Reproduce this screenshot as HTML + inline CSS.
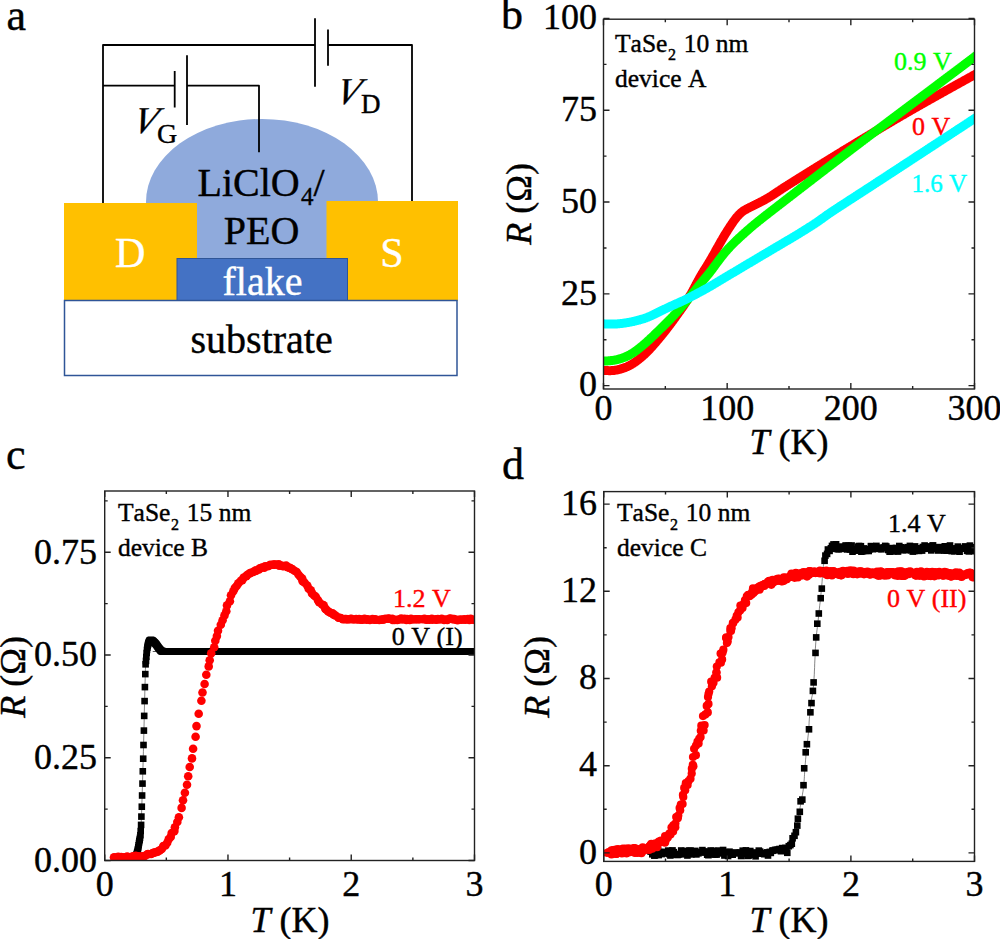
<!DOCTYPE html>
<html><head><meta charset="utf-8"><style>html,body{margin:0;padding:0;background:#fff;width:1000px;height:939px;overflow:hidden}svg{display:block}text{font-family:"Liberation Serif",serif;font-kerning:none}</style></head>
<body><svg width="1000" height="939" viewBox="0 0 1000 939" font-family="Liberation Serif"><text x="6.5" y="29.5" font-size="44" stroke="#000" stroke-width="0.4">a</text><ellipse cx="262" cy="202" rx="116" ry="83" fill="#8FAADC"/><rect x="190" y="200" width="140" height="60" fill="#8FAADC"/><rect x="64" y="203" width="133" height="98" fill="#FFC000"/><rect x="326.5" y="201" width="131.5" height="100" fill="#FFC000"/><rect x="177" y="258.5" width="170.5" height="42" fill="#4472C4" stroke="#2F5597" stroke-width="1"/><rect x="64.5" y="300.5" width="392.5" height="75" fill="#fff" stroke="#2F5597" stroke-width="1.5"/><path d="M103,203V45H315M328,45H412V201M103,85.7H174.7M187,85.7H259V152.3" stroke="#000" stroke-width="1.8" fill="none" stroke-linejoin="round"/><path d="M315,18.2V86.8M328,29.4V65.8M174.7,71V107.5M187,55.3V125" stroke="#000" stroke-width="1.8" fill="none"/><text transform="translate(334,104) skewX(-15)" font-size="38" font-style="italic" stroke="#000" stroke-width="0.3">V</text><text x="361" y="113" font-size="27" text-anchor="start" fill="#000" stroke="#000" stroke-width="0.4" >D</text><text transform="translate(131,133.3) skewX(-15)" font-size="38" font-style="italic" stroke="#000" stroke-width="0.3">V</text><text x="157" y="143" font-size="28" text-anchor="start" fill="#000" stroke="#000" stroke-width="0.4" >G</text><text x="197.5" y="196" font-size="40" text-anchor="start" fill="#000" stroke="#000" stroke-width="0.4" >LiClO</text><text x="301" y="205" font-size="25" text-anchor="start" fill="#000" stroke="#000" stroke-width="0.4" >4</text><text x="313.5" y="196" font-size="40" text-anchor="start" fill="#000" stroke="#000" stroke-width="0.4" >/</text><text x="261.5" y="244" font-size="40" text-anchor="middle" fill="#000" stroke="#000" stroke-width="0.4" >PEO</text><text x="130.2" y="267" font-size="42" text-anchor="middle" fill="#fff" stroke="#fff" stroke-width="0.4" >D</text><text x="392" y="267" font-size="42" text-anchor="middle" fill="#fff" stroke="#fff" stroke-width="0.4" >S</text><text x="262.5" y="295" font-size="40" text-anchor="middle" fill="#fff" stroke="#fff" stroke-width="0.4" >flake</text><text x="261.6" y="352.8" font-size="40" text-anchor="middle" fill="#000" stroke="#000" stroke-width="0.4" >substrate</text><text x="501" y="29.4" font-size="44" stroke="#000" stroke-width="0.4">b</text><clipPath id="cb"><rect x="603.5" y="19.2" width="371.0" height="369.8"/></clipPath><g clip-path="url(#cb)"><path d="M603.7,370.4 L604.2,370.4 L604.7,370.5 L605.2,370.5 L605.7,370.5 L606.2,370.5 L606.7,370.6 L607.2,370.6 L607.7,370.6 L608.2,370.6 L608.7,370.7 L609.2,370.7 L609.7,370.7 L610.2,370.7 L610.7,370.7 L611.2,370.6 L611.7,370.6 L612.2,370.6 L612.7,370.6 L613.2,370.5 L613.7,370.5 L614.2,370.4 L614.7,370.3 L615.2,370.2 L615.7,370.2 L616.2,370.1 L616.7,370.0 L617.2,369.9 L617.7,369.8 L618.2,369.6 L618.7,369.5 L619.2,369.4 L619.7,369.3 L620.2,369.1 L620.7,369.0 L621.2,368.8 L621.7,368.7 L622.2,368.5 L622.7,368.4 L623.2,368.2 L623.7,368.0 L624.2,367.9 L624.7,367.7 L625.2,367.5 L625.7,367.3 L626.2,367.1 L626.7,366.9 L627.2,366.7 L627.7,366.4 L628.2,366.2 L628.7,365.9 L629.2,365.7 L629.7,365.4 L630.2,365.2 L630.7,364.9 L631.2,364.6 L631.7,364.3 L632.2,364.0 L632.7,363.7 L633.2,363.4 L633.7,363.0 L634.2,362.7 L634.7,362.4 L635.2,362.0 L635.7,361.7 L636.2,361.3 L636.7,360.9 L637.2,360.6 L637.7,360.2 L638.2,359.8 L638.7,359.4 L639.2,359.0 L639.7,358.6 L640.2,358.2 L640.7,357.8 L641.2,357.3 L641.7,356.9 L642.2,356.5 L642.7,356.0 L643.2,355.6 L643.7,355.1 L644.2,354.7 L644.7,354.2 L645.2,353.7 L645.7,353.3 L646.2,352.8 L646.7,352.3 L647.2,351.8 L647.7,351.3 L648.2,350.8 L648.7,350.3 L649.2,349.7 L649.7,349.2 L650.2,348.7 L650.7,348.1 L651.2,347.6 L651.7,347.0 L652.2,346.5 L652.7,345.9 L653.2,345.4 L653.7,344.8 L654.2,344.2 L654.7,343.6 L655.2,343.1 L655.7,342.5 L656.2,341.9 L656.7,341.3 L657.2,340.7 L657.7,340.1 L658.2,339.5 L658.7,338.9 L659.2,338.3 L659.7,337.7 L660.2,337.1 L660.7,336.5 L661.2,335.9 L661.7,335.3 L662.2,334.7 L662.7,334.1 L663.2,333.4 L663.7,332.8 L664.2,332.2 L664.7,331.6 L665.2,330.9 L665.7,330.3 L666.2,329.6 L666.7,329.0 L667.2,328.3 L667.7,327.7 L668.2,327.0 L668.7,326.4 L669.2,325.7 L669.7,325.1 L670.2,324.4 L670.7,323.7 L671.2,323.1 L671.7,322.4 L672.2,321.7 L672.7,321.0 L673.2,320.4 L673.7,319.7 L674.2,319.0 L674.7,318.3 L675.2,317.6 L675.7,316.9 L676.2,316.2 L676.7,315.5 L677.2,314.8 L677.7,314.1 L678.2,313.4 L678.7,312.7 L679.2,312.0 L679.7,311.3 L680.2,310.6 L680.7,309.9 L681.2,309.2 L681.7,308.5 L682.2,307.8 L682.7,307.0 L683.2,306.3 L683.7,305.6 L684.2,304.8 L684.7,304.1 L685.2,303.3 L685.7,302.6 L686.2,301.8 L686.7,301.0 L687.2,300.3 L687.7,299.5 L688.2,298.7 L688.7,297.9 L689.2,297.0 L689.7,296.2 L690.2,295.3 L690.7,294.5 L691.2,293.6 L691.7,292.7 L692.2,291.8 L692.7,290.9 L693.2,290.0 L693.7,289.0 L694.2,288.1 L694.7,287.1 L695.2,286.2 L695.7,285.2 L696.2,284.3 L696.7,283.3 L697.2,282.4 L697.7,281.4 L698.2,280.5 L698.7,279.6 L699.2,278.7 L699.7,277.8 L700.2,276.9 L700.7,276.0 L701.2,275.1 L701.7,274.3 L702.2,273.5 L702.7,272.6 L703.2,271.8 L703.7,271.0 L704.2,270.2 L704.7,269.4 L705.2,268.6 L705.7,267.8 L706.2,267.1 L706.7,266.3 L707.2,265.5 L707.7,264.7 L708.2,263.8 L708.7,263.0 L709.2,262.2 L709.7,261.4 L710.2,260.5 L710.7,259.7 L711.2,258.8 L711.7,257.9 L712.2,257.0 L712.7,256.2 L713.2,255.3 L713.7,254.4 L714.2,253.5 L714.7,252.6 L715.2,251.7 L715.7,250.8 L716.2,249.8 L716.7,248.9 L717.2,248.0 L717.7,247.1 L718.2,246.3 L718.7,245.4 L719.2,244.5 L719.7,243.6 L720.2,242.7 L720.7,241.8 L721.2,241.0 L721.7,240.1 L722.2,239.3 L722.7,238.4 L723.2,237.6 L723.7,236.7 L724.2,235.9 L724.7,235.0 L725.2,234.2 L725.7,233.4 L726.2,232.6 L726.7,231.8 L727.2,231.0 L727.7,230.2 L728.2,229.4 L728.7,228.6 L729.2,227.8 L729.7,227.1 L730.2,226.3 L730.7,225.5 L731.2,224.8 L731.7,224.1 L732.2,223.3 L732.7,222.6 L733.2,221.9 L733.7,221.2 L734.2,220.5 L734.7,219.8 L735.2,219.2 L735.7,218.5 L736.2,217.9 L736.7,217.2 L737.2,216.6 L737.7,216.1 L738.2,215.5 L738.7,215.0 L739.2,214.4 L739.7,213.9 L740.2,213.5 L740.7,213.0 L741.2,212.6 L741.7,212.2 L742.2,211.8 L742.7,211.4 L743.2,211.1 L743.7,210.7 L744.2,210.4 L744.7,210.1 L745.2,209.8 L745.7,209.5 L746.2,209.3 L746.7,209.0 L747.2,208.7 L747.7,208.4 L748.2,208.2 L748.7,207.9 L749.2,207.7 L749.7,207.4 L750.2,207.1 L750.7,206.9 L751.2,206.6 L751.7,206.4 L752.2,206.2 L752.7,205.9 L753.2,205.7 L753.7,205.4 L754.2,205.2 L754.7,204.9 L755.2,204.7 L755.7,204.4 L756.2,204.2 L756.7,203.9 L757.2,203.7 L757.7,203.4 L758.2,203.2 L758.7,202.9 L759.2,202.7 L759.7,202.4 L760.2,202.2 L760.7,201.9 L761.2,201.6 L761.7,201.4 L762.2,201.1 L762.7,200.9 L763.2,200.6 L763.7,200.3 L764.2,200.1 L764.7,199.8 L765.2,199.5 L765.7,199.2 L766.2,199.0 L766.7,198.7 L767.2,198.4 L767.7,198.1 L768.2,197.8 L768.7,197.5 L769.2,197.2 L769.7,196.9 L770.2,196.6 L770.7,196.3 L771.2,196.0 L771.7,195.7 L772.2,195.4 L772.7,195.1 L773.2,194.7 L773.7,194.4 L774.2,194.1 L774.7,193.7 L775.2,193.4 L775.7,193.1 L776.2,192.7 L776.7,192.4 L777.2,192.1 L777.7,191.7 L778.2,191.4 L778.7,191.0 L779.2,190.7 L779.7,190.4 L780.2,190.0 L780.7,189.7 L781.2,189.4 L781.7,189.0 L782.2,188.7 L782.7,188.4 L783.2,188.1 L783.7,187.7 L784.2,187.4 L784.7,187.1 L785.2,186.8 L785.7,186.4 L786.2,186.1 L786.7,185.8 L787.2,185.5 L787.7,185.2 L788.2,184.9 L788.7,184.5 L789.2,184.2 L789.7,183.9 L790.2,183.6 L790.7,183.3 L791.2,183.0 L791.7,182.6 L792.2,182.3 L792.7,182.0 L793.2,181.7 L793.7,181.4 L794.2,181.1 L794.7,180.8 L795.2,180.4 L795.7,180.1 L796.2,179.8 L796.7,179.5 L797.2,179.2 L797.7,178.9 L798.2,178.6 L798.7,178.3 L799.2,177.9 L799.7,177.6 L800.2,177.3 L800.7,177.0 L801.2,176.7 L801.7,176.4 L802.2,176.1 L802.7,175.8 L803.2,175.5 L803.7,175.1 L804.2,174.8 L804.7,174.5 L805.2,174.2 L805.7,173.9 L806.2,173.6 L806.7,173.3 L807.2,173.0 L807.7,172.6 L808.2,172.3 L808.7,172.0 L809.2,171.7 L809.7,171.4 L810.2,171.1 L810.7,170.8 L811.2,170.5 L811.7,170.2 L812.2,169.9 L812.7,169.5 L813.2,169.2 L813.7,168.9 L814.2,168.6 L814.7,168.3 L815.2,168.0 L815.7,167.7 L816.2,167.4 L816.7,167.1 L817.2,166.8 L817.7,166.4 L818.2,166.1 L818.7,165.8 L819.2,165.5 L819.7,165.2 L820.2,164.9 L820.7,164.6 L821.2,164.3 L821.7,164.0 L822.2,163.7 L822.7,163.3 L823.2,163.0 L823.7,162.7 L824.2,162.4 L824.7,162.1 L825.2,161.8 L825.7,161.5 L826.2,161.2 L826.7,160.9 L827.2,160.6 L827.7,160.3 L828.2,160.0 L828.7,159.6 L829.2,159.3 L829.7,159.0 L830.2,158.7 L830.7,158.4 L831.2,158.1 L831.7,157.8 L832.2,157.5 L832.7,157.2 L833.2,156.9 L833.7,156.6 L834.2,156.3 L834.7,156.0 L835.2,155.6 L835.7,155.3 L836.2,155.0 L836.7,154.7 L837.2,154.4 L837.7,154.1 L838.2,153.8 L838.7,153.5 L839.2,153.2 L839.7,152.9 L840.2,152.6 L840.7,152.3 L841.2,152.0 L841.7,151.7 L842.2,151.4 L842.7,151.1 L843.2,150.7 L843.7,150.4 L844.2,150.1 L844.7,149.8 L845.2,149.5 L845.7,149.2 L846.2,148.9 L846.7,148.6 L847.2,148.3 L847.7,148.0 L848.2,147.7 L848.7,147.4 L849.2,147.1 L849.7,146.8 L850.2,146.5 L850.7,146.2 L851.2,145.9 L851.7,145.6 L852.2,145.3 L852.7,145.0 L853.2,144.7 L853.7,144.4 L854.2,144.1 L854.7,143.8 L855.2,143.5 L855.7,143.1 L856.2,142.8 L856.7,142.5 L857.2,142.2 L857.7,141.9 L858.2,141.6 L858.7,141.3 L859.2,141.0 L859.7,140.7 L860.2,140.4 L860.7,140.1 L861.2,139.8 L861.7,139.5 L862.2,139.2 L862.7,138.9 L863.2,138.6 L863.7,138.3 L864.2,138.0 L864.7,137.7 L865.2,137.4 L865.7,137.1 L866.2,136.8 L866.7,136.5 L867.2,136.2 L867.7,135.9 L868.2,135.6 L868.7,135.3 L869.2,135.0 L869.7,134.7 L870.2,134.4 L870.7,134.1 L871.2,133.8 L871.7,133.5 L872.2,133.2 L872.7,132.9 L873.2,132.6 L873.7,132.3 L874.2,132.0 L874.7,131.7 L875.2,131.4 L875.7,131.1 L876.2,130.8 L876.7,130.5 L877.2,130.2 L877.7,129.9 L878.2,129.6 L878.7,129.3 L879.2,129.0 L879.7,128.7 L880.2,128.4 L880.7,128.1 L881.2,127.8 L881.7,127.5 L882.2,127.2 L882.7,126.9 L883.2,126.6 L883.7,126.3 L884.2,126.0 L884.7,125.7 L885.2,125.4 L885.7,125.1 L886.2,124.8 L886.7,124.5 L887.2,124.2 L887.7,124.0 L888.2,123.7 L888.7,123.4 L889.2,123.1 L889.7,122.8 L890.2,122.5 L890.7,122.2 L891.2,121.9 L891.7,121.6 L892.2,121.3 L892.7,121.0 L893.2,120.7 L893.7,120.4 L894.2,120.1 L894.7,119.8 L895.2,119.5 L895.7,119.2 L896.2,118.9 L896.7,118.6 L897.2,118.4 L897.7,118.1 L898.2,117.8 L898.7,117.5 L899.2,117.2 L899.7,116.9 L900.2,116.6 L900.7,116.3 L901.2,116.0 L901.7,115.7 L902.2,115.4 L902.7,115.1 L903.2,114.9 L903.7,114.6 L904.2,114.3 L904.7,114.0 L905.2,113.7 L905.7,113.4 L906.2,113.1 L906.7,112.8 L907.2,112.5 L907.7,112.2 L908.2,111.9 L908.7,111.7 L909.2,111.4 L909.7,111.1 L910.2,110.8 L910.7,110.5 L911.2,110.2 L911.7,109.9 L912.2,109.6 L912.7,109.4 L913.2,109.1 L913.7,108.8 L914.2,108.5 L914.7,108.2 L915.2,107.9 L915.7,107.6 L916.2,107.4 L916.7,107.1 L917.2,106.8 L917.7,106.5 L918.2,106.2 L918.7,105.9 L919.2,105.6 L919.7,105.4 L920.2,105.1 L920.7,104.8 L921.2,104.5 L921.7,104.2 L922.2,103.9 L922.7,103.7 L923.2,103.4 L923.7,103.1 L924.2,102.8 L924.7,102.5 L925.2,102.2 L925.7,102.0 L926.2,101.7 L926.7,101.4 L927.2,101.1 L927.7,100.8 L928.2,100.5 L928.7,100.3 L929.2,100.0 L929.7,99.7 L930.2,99.4 L930.7,99.1 L931.2,98.9 L931.7,98.6 L932.2,98.3 L932.7,98.0 L933.2,97.7 L933.7,97.5 L934.2,97.2 L934.7,96.9 L935.2,96.6 L935.7,96.3 L936.2,96.1 L936.7,95.8 L937.2,95.5 L937.7,95.2 L938.2,94.9 L938.7,94.7 L939.2,94.4 L939.7,94.1 L940.2,93.8 L940.7,93.5 L941.2,93.3 L941.7,93.0 L942.2,92.7 L942.7,92.4 L943.2,92.1 L943.7,91.9 L944.2,91.6 L944.7,91.3 L945.2,91.0 L945.7,90.7 L946.2,90.5 L946.7,90.2 L947.2,89.9 L947.7,89.6 L948.2,89.4 L948.7,89.1 L949.2,88.8 L949.7,88.5 L950.2,88.2 L950.7,88.0 L951.2,87.7 L951.7,87.4 L952.2,87.1 L952.7,86.8 L953.2,86.6 L953.7,86.3 L954.2,86.0 L954.7,85.7 L955.2,85.5 L955.7,85.2 L956.2,84.9 L956.7,84.6 L957.2,84.3 L957.7,84.1 L958.2,83.8 L958.7,83.5 L959.2,83.2 L959.7,83.0 L960.2,82.7 L960.7,82.4 L961.2,82.1 L961.7,81.9 L962.2,81.6 L962.7,81.3 L963.2,81.0 L963.7,80.7 L964.2,80.5 L964.7,80.2 L965.2,79.9 L965.7,79.6 L966.2,79.4 L966.7,79.1 L967.2,78.8 L967.7,78.5 L968.2,78.2 L968.7,78.0 L969.2,77.7 L969.7,77.4 L970.2,77.1 L970.7,76.9 L971.2,76.6 L971.7,76.3 L972.2,76.0 L972.7,75.8 L973.2,75.5 L973.7,75.2 L974.2,74.9 L974.7,74.7 L975.2,74.4 L975.7,74.1 L976.2,73.8 L976.7,73.5 L977.2,73.3 L977.7,73.0 L978.2,72.7 L978.7,72.5 L979.2,72.2 L979.7,71.9 L980.2,71.6 L980.7,71.4 L981.2,71.1 L981.7,70.8 L982.2,70.6 L982.7,70.3 L983.2,70.0 L983.7,69.8 L984.2,69.5 L984.7,69.2 L985.2,69.0 L985.7,68.7 L986.2,68.4 L986.7,68.2 L987.2,67.9 L987.7,67.7 L988.2,67.4 L988.7,67.2 L989.2,66.9 L989.7,66.7" stroke="#FF0000" stroke-width="9" fill="none" stroke-linejoin="round"/><path d="M603.7,361.0 L604.2,361.0 L604.7,361.0 L605.2,361.0 L605.7,360.9 L606.2,360.9 L606.7,360.9 L607.2,360.9 L607.7,360.9 L608.2,360.8 L608.7,360.8 L609.2,360.8 L609.7,360.7 L610.2,360.7 L610.7,360.6 L611.2,360.6 L611.7,360.5 L612.2,360.5 L612.7,360.4 L613.2,360.3 L613.7,360.3 L614.2,360.2 L614.7,360.1 L615.2,360.0 L615.7,359.9 L616.2,359.8 L616.7,359.7 L617.2,359.6 L617.7,359.4 L618.2,359.3 L618.7,359.2 L619.2,359.0 L619.7,358.9 L620.2,358.7 L620.7,358.6 L621.2,358.4 L621.7,358.3 L622.2,358.1 L622.7,357.9 L623.2,357.7 L623.7,357.6 L624.2,357.4 L624.7,357.2 L625.2,357.0 L625.7,356.8 L626.2,356.5 L626.7,356.3 L627.2,356.1 L627.7,355.8 L628.2,355.6 L628.7,355.3 L629.2,355.1 L629.7,354.8 L630.2,354.5 L630.7,354.2 L631.2,353.9 L631.7,353.6 L632.2,353.3 L632.7,353.0 L633.2,352.7 L633.7,352.4 L634.2,352.0 L634.7,351.7 L635.2,351.3 L635.7,351.0 L636.2,350.6 L636.7,350.3 L637.2,349.9 L637.7,349.5 L638.2,349.1 L638.7,348.7 L639.2,348.3 L639.7,347.9 L640.2,347.5 L640.7,347.1 L641.2,346.7 L641.7,346.3 L642.2,345.9 L642.7,345.5 L643.2,345.1 L643.7,344.6 L644.2,344.2 L644.7,343.8 L645.2,343.3 L645.7,342.9 L646.2,342.4 L646.7,342.0 L647.2,341.5 L647.7,341.1 L648.2,340.6 L648.7,340.2 L649.2,339.7 L649.7,339.3 L650.2,338.8 L650.7,338.3 L651.2,337.8 L651.7,337.4 L652.2,336.9 L652.7,336.4 L653.2,335.9 L653.7,335.5 L654.2,335.0 L654.7,334.5 L655.2,334.0 L655.7,333.5 L656.2,333.0 L656.7,332.5 L657.2,332.1 L657.7,331.6 L658.2,331.1 L658.7,330.6 L659.2,330.1 L659.7,329.6 L660.2,329.1 L660.7,328.6 L661.2,328.1 L661.7,327.7 L662.2,327.2 L662.7,326.7 L663.2,326.2 L663.7,325.7 L664.2,325.2 L664.7,324.7 L665.2,324.2 L665.7,323.7 L666.2,323.2 L666.7,322.7 L667.2,322.2 L667.7,321.7 L668.2,321.2 L668.7,320.7 L669.2,320.2 L669.7,319.7 L670.2,319.2 L670.7,318.7 L671.2,318.1 L671.7,317.6 L672.2,317.1 L672.7,316.6 L673.2,316.1 L673.7,315.5 L674.2,315.0 L674.7,314.5 L675.2,313.9 L675.7,313.4 L676.2,312.8 L676.7,312.3 L677.2,311.7 L677.7,311.2 L678.2,310.6 L678.7,310.1 L679.2,309.5 L679.7,309.0 L680.2,308.4 L680.7,307.8 L681.2,307.2 L681.7,306.7 L682.2,306.1 L682.7,305.5 L683.2,304.9 L683.7,304.4 L684.2,303.8 L684.7,303.2 L685.2,302.6 L685.7,302.0 L686.2,301.4 L686.7,300.8 L687.2,300.2 L687.7,299.6 L688.2,299.0 L688.7,298.4 L689.2,297.8 L689.7,297.2 L690.2,296.5 L690.7,295.9 L691.2,295.3 L691.7,294.7 L692.2,294.0 L692.7,293.4 L693.2,292.8 L693.7,292.2 L694.2,291.5 L694.7,290.9 L695.2,290.3 L695.7,289.6 L696.2,289.0 L696.7,288.4 L697.2,287.7 L697.7,287.1 L698.2,286.5 L698.7,285.9 L699.2,285.2 L699.7,284.6 L700.2,284.0 L700.7,283.4 L701.2,282.8 L701.7,282.2 L702.2,281.6 L702.7,281.0 L703.2,280.4 L703.7,279.8 L704.2,279.2 L704.7,278.6 L705.2,278.0 L705.7,277.4 L706.2,276.8 L706.7,276.2 L707.2,275.6 L707.7,275.0 L708.2,274.4 L708.7,273.8 L709.2,273.1 L709.7,272.5 L710.2,271.9 L710.7,271.2 L711.2,270.6 L711.7,269.9 L712.2,269.3 L712.7,268.6 L713.2,267.9 L713.7,267.2 L714.2,266.6 L714.7,265.9 L715.2,265.2 L715.7,264.5 L716.2,263.8 L716.7,263.2 L717.2,262.5 L717.7,261.8 L718.2,261.1 L718.7,260.5 L719.2,259.8 L719.7,259.1 L720.2,258.5 L720.7,257.8 L721.2,257.2 L721.7,256.5 L722.2,255.9 L722.7,255.3 L723.2,254.6 L723.7,254.0 L724.2,253.4 L724.7,252.8 L725.2,252.2 L725.7,251.6 L726.2,251.0 L726.7,250.5 L727.2,249.9 L727.7,249.3 L728.2,248.8 L728.7,248.2 L729.2,247.7 L729.7,247.2 L730.2,246.6 L730.7,246.1 L731.2,245.6 L731.7,245.1 L732.2,244.6 L732.7,244.1 L733.2,243.6 L733.7,243.1 L734.2,242.6 L734.7,242.1 L735.2,241.6 L735.7,241.1 L736.2,240.6 L736.7,240.2 L737.2,239.7 L737.7,239.2 L738.2,238.8 L738.7,238.3 L739.2,237.8 L739.7,237.4 L740.2,236.9 L740.7,236.4 L741.2,236.0 L741.7,235.5 L742.2,235.1 L742.7,234.6 L743.2,234.2 L743.7,233.7 L744.2,233.3 L744.7,232.8 L745.2,232.4 L745.7,231.9 L746.2,231.5 L746.7,231.0 L747.2,230.6 L747.7,230.2 L748.2,229.7 L748.7,229.3 L749.2,228.9 L749.7,228.4 L750.2,228.0 L750.7,227.6 L751.2,227.1 L751.7,226.7 L752.2,226.3 L752.7,225.9 L753.2,225.4 L753.7,225.0 L754.2,224.6 L754.7,224.2 L755.2,223.8 L755.7,223.4 L756.2,223.0 L756.7,222.6 L757.2,222.2 L757.7,221.7 L758.2,221.3 L758.7,220.9 L759.2,220.5 L759.7,220.2 L760.2,219.8 L760.7,219.4 L761.2,219.0 L761.7,218.6 L762.2,218.2 L762.7,217.8 L763.2,217.4 L763.7,217.0 L764.2,216.6 L764.7,216.2 L765.2,215.8 L765.7,215.4 L766.2,215.1 L766.7,214.7 L767.2,214.3 L767.7,213.9 L768.2,213.5 L768.7,213.1 L769.2,212.7 L769.7,212.3 L770.2,211.9 L770.7,211.6 L771.2,211.2 L771.7,210.8 L772.2,210.4 L772.7,210.0 L773.2,209.6 L773.7,209.2 L774.2,208.8 L774.7,208.5 L775.2,208.1 L775.7,207.7 L776.2,207.3 L776.7,206.9 L777.2,206.5 L777.7,206.1 L778.2,205.7 L778.7,205.4 L779.2,205.0 L779.7,204.6 L780.2,204.2 L780.7,203.8 L781.2,203.4 L781.7,203.0 L782.2,202.6 L782.7,202.3 L783.2,201.9 L783.7,201.5 L784.2,201.1 L784.7,200.7 L785.2,200.3 L785.7,199.9 L786.2,199.6 L786.7,199.2 L787.2,198.8 L787.7,198.4 L788.2,198.0 L788.7,197.6 L789.2,197.2 L789.7,196.9 L790.2,196.5 L790.7,196.1 L791.2,195.7 L791.7,195.3 L792.2,194.9 L792.7,194.5 L793.2,194.1 L793.7,193.8 L794.2,193.4 L794.7,193.0 L795.2,192.6 L795.7,192.2 L796.2,191.8 L796.7,191.4 L797.2,191.1 L797.7,190.7 L798.2,190.3 L798.7,189.9 L799.2,189.5 L799.7,189.1 L800.2,188.7 L800.7,188.4 L801.2,188.0 L801.7,187.6 L802.2,187.2 L802.7,186.8 L803.2,186.4 L803.7,186.0 L804.2,185.7 L804.7,185.3 L805.2,184.9 L805.7,184.5 L806.2,184.1 L806.7,183.7 L807.2,183.3 L807.7,183.0 L808.2,182.6 L808.7,182.2 L809.2,181.8 L809.7,181.4 L810.2,181.0 L810.7,180.7 L811.2,180.3 L811.7,179.9 L812.2,179.5 L812.7,179.1 L813.2,178.7 L813.7,178.3 L814.2,178.0 L814.7,177.6 L815.2,177.2 L815.7,176.8 L816.2,176.4 L816.7,176.0 L817.2,175.6 L817.7,175.3 L818.2,174.9 L818.7,174.5 L819.2,174.1 L819.7,173.7 L820.2,173.3 L820.7,173.0 L821.2,172.6 L821.7,172.2 L822.2,171.8 L822.7,171.4 L823.2,171.0 L823.7,170.6 L824.2,170.3 L824.7,169.9 L825.2,169.5 L825.7,169.1 L826.2,168.7 L826.7,168.3 L827.2,168.0 L827.7,167.6 L828.2,167.2 L828.7,166.8 L829.2,166.4 L829.7,166.0 L830.2,165.7 L830.7,165.3 L831.2,164.9 L831.7,164.5 L832.2,164.1 L832.7,163.7 L833.2,163.4 L833.7,163.0 L834.2,162.6 L834.7,162.2 L835.2,161.8 L835.7,161.4 L836.2,161.1 L836.7,160.7 L837.2,160.3 L837.7,159.9 L838.2,159.5 L838.7,159.1 L839.2,158.8 L839.7,158.4 L840.2,158.0 L840.7,157.6 L841.2,157.2 L841.7,156.8 L842.2,156.5 L842.7,156.1 L843.2,155.7 L843.7,155.3 L844.2,154.9 L844.7,154.6 L845.2,154.2 L845.7,153.8 L846.2,153.4 L846.7,153.0 L847.2,152.6 L847.7,152.3 L848.2,151.9 L848.7,151.5 L849.2,151.1 L849.7,150.7 L850.2,150.4 L850.7,150.0 L851.2,149.6 L851.7,149.2 L852.2,148.8 L852.7,148.5 L853.2,148.1 L853.7,147.7 L854.2,147.3 L854.7,146.9 L855.2,146.6 L855.7,146.2 L856.2,145.8 L856.7,145.4 L857.2,145.0 L857.7,144.7 L858.2,144.3 L858.7,143.9 L859.2,143.5 L859.7,143.1 L860.2,142.8 L860.7,142.4 L861.2,142.0 L861.7,141.6 L862.2,141.2 L862.7,140.9 L863.2,140.5 L863.7,140.1 L864.2,139.7 L864.7,139.4 L865.2,139.0 L865.7,138.6 L866.2,138.2 L866.7,137.9 L867.2,137.5 L867.7,137.1 L868.2,136.7 L868.7,136.3 L869.2,136.0 L869.7,135.6 L870.2,135.2 L870.7,134.8 L871.2,134.5 L871.7,134.1 L872.2,133.7 L872.7,133.3 L873.2,133.0 L873.7,132.6 L874.2,132.2 L874.7,131.8 L875.2,131.5 L875.7,131.1 L876.2,130.7 L876.7,130.3 L877.2,130.0 L877.7,129.6 L878.2,129.2 L878.7,128.8 L879.2,128.5 L879.7,128.1 L880.2,127.7 L880.7,127.3 L881.2,127.0 L881.7,126.6 L882.2,126.2 L882.7,125.8 L883.2,125.5 L883.7,125.1 L884.2,124.7 L884.7,124.3 L885.2,124.0 L885.7,123.6 L886.2,123.2 L886.7,122.8 L887.2,122.5 L887.7,122.1 L888.2,121.7 L888.7,121.4 L889.2,121.0 L889.7,120.6 L890.2,120.2 L890.7,119.9 L891.2,119.5 L891.7,119.1 L892.2,118.7 L892.7,118.4 L893.2,118.0 L893.7,117.6 L894.2,117.2 L894.7,116.9 L895.2,116.5 L895.7,116.1 L896.2,115.7 L896.7,115.4 L897.2,115.0 L897.7,114.6 L898.2,114.2 L898.7,113.9 L899.2,113.5 L899.7,113.1 L900.2,112.7 L900.7,112.4 L901.2,112.0 L901.7,111.6 L902.2,111.2 L902.7,110.9 L903.2,110.5 L903.7,110.1 L904.2,109.7 L904.7,109.4 L905.2,109.0 L905.7,108.6 L906.2,108.2 L906.7,107.9 L907.2,107.5 L907.7,107.1 L908.2,106.7 L908.7,106.4 L909.2,106.0 L909.7,105.6 L910.2,105.2 L910.7,104.9 L911.2,104.5 L911.7,104.1 L912.2,103.7 L912.7,103.4 L913.2,103.0 L913.7,102.6 L914.2,102.2 L914.7,101.9 L915.2,101.5 L915.7,101.1 L916.2,100.7 L916.7,100.4 L917.2,100.0 L917.7,99.6 L918.2,99.2 L918.7,98.9 L919.2,98.5 L919.7,98.1 L920.2,97.7 L920.7,97.4 L921.2,97.0 L921.7,96.6 L922.2,96.2 L922.7,95.9 L923.2,95.5 L923.7,95.1 L924.2,94.7 L924.7,94.3 L925.2,94.0 L925.7,93.6 L926.2,93.2 L926.7,92.8 L927.2,92.5 L927.7,92.1 L928.2,91.7 L928.7,91.3 L929.2,91.0 L929.7,90.6 L930.2,90.2 L930.7,89.8 L931.2,89.5 L931.7,89.1 L932.2,88.7 L932.7,88.3 L933.2,88.0 L933.7,87.6 L934.2,87.2 L934.7,86.8 L935.2,86.5 L935.7,86.1 L936.2,85.7 L936.7,85.3 L937.2,84.9 L937.7,84.6 L938.2,84.2 L938.7,83.8 L939.2,83.4 L939.7,83.1 L940.2,82.7 L940.7,82.3 L941.2,81.9 L941.7,81.6 L942.2,81.2 L942.7,80.8 L943.2,80.4 L943.7,80.1 L944.2,79.7 L944.7,79.3 L945.2,78.9 L945.7,78.6 L946.2,78.2 L946.7,77.8 L947.2,77.4 L947.7,77.1 L948.2,76.7 L948.7,76.3 L949.2,75.9 L949.7,75.6 L950.2,75.2 L950.7,74.8 L951.2,74.4 L951.7,74.0 L952.2,73.7 L952.7,73.3 L953.2,72.9 L953.7,72.5 L954.2,72.2 L954.7,71.8 L955.2,71.4 L955.7,71.0 L956.2,70.7 L956.7,70.3 L957.2,69.9 L957.7,69.5 L958.2,69.2 L958.7,68.8 L959.2,68.4 L959.7,68.0 L960.2,67.7 L960.7,67.3 L961.2,66.9 L961.7,66.5 L962.2,66.2 L962.7,65.8 L963.2,65.4 L963.7,65.0 L964.2,64.6 L964.7,64.3 L965.2,63.9 L965.7,63.5 L966.2,63.1 L966.7,62.8 L967.2,62.4 L967.7,62.0 L968.2,61.6 L968.7,61.3 L969.2,60.9 L969.7,60.5 L970.2,60.1 L970.7,59.8 L971.2,59.4 L971.7,59.0 L972.2,58.6 L972.7,58.3 L973.2,57.9 L973.7,57.5 L974.2,57.1 L974.7,56.7 L975.2,56.4 L975.7,56.0 L976.2,55.6 L976.7,55.2 L977.2,54.9 L977.7,54.5 L978.2,54.1 L978.7,53.7 L979.2,53.4 L979.7,53.0 L980.2,52.6 L980.7,52.2 L981.2,51.8 L981.7,51.5 L982.2,51.1 L982.7,50.7 L983.2,50.3 L983.7,50.0 L984.2,49.6 L984.7,49.2 L985.2,48.8 L985.7,48.5 L986.2,48.1 L986.7,47.7 L987.2,47.3 L987.7,46.9 L988.2,46.6 L988.7,46.2 L989.2,45.8 L989.7,45.4" stroke="#00FF00" stroke-width="9" fill="none" stroke-linejoin="round"/><path d="M603.7,323.8 L604.2,323.8 L604.7,323.9 L605.2,323.9 L605.7,323.9 L606.2,323.9 L606.7,323.9 L607.2,324.0 L607.7,324.0 L608.2,324.0 L608.7,324.0 L609.2,324.0 L609.7,324.0 L610.2,324.1 L610.7,324.1 L611.2,324.1 L611.7,324.1 L612.2,324.1 L612.7,324.1 L613.2,324.1 L613.7,324.0 L614.2,324.0 L614.7,324.0 L615.2,324.0 L615.7,324.0 L616.2,323.9 L616.7,323.9 L617.2,323.9 L617.7,323.8 L618.2,323.8 L618.7,323.8 L619.2,323.7 L619.7,323.7 L620.2,323.6 L620.7,323.6 L621.2,323.5 L621.7,323.4 L622.2,323.4 L622.7,323.3 L623.2,323.3 L623.7,323.2 L624.2,323.1 L624.7,323.0 L625.2,323.0 L625.7,322.9 L626.2,322.8 L626.7,322.7 L627.2,322.6 L627.7,322.6 L628.2,322.5 L628.7,322.4 L629.2,322.3 L629.7,322.2 L630.2,322.1 L630.7,322.0 L631.2,321.9 L631.7,321.8 L632.2,321.7 L632.7,321.6 L633.2,321.5 L633.7,321.3 L634.2,321.2 L634.7,321.1 L635.2,321.0 L635.7,320.9 L636.2,320.7 L636.7,320.6 L637.2,320.5 L637.7,320.4 L638.2,320.2 L638.7,320.1 L639.2,320.0 L639.7,319.8 L640.2,319.7 L640.7,319.5 L641.2,319.4 L641.7,319.2 L642.2,319.1 L642.7,318.9 L643.2,318.8 L643.7,318.6 L644.2,318.5 L644.7,318.3 L645.2,318.1 L645.7,317.9 L646.2,317.8 L646.7,317.6 L647.2,317.4 L647.7,317.2 L648.2,317.0 L648.7,316.8 L649.2,316.6 L649.7,316.4 L650.2,316.1 L650.7,315.9 L651.2,315.7 L651.7,315.5 L652.2,315.2 L652.7,315.0 L653.2,314.7 L653.7,314.5 L654.2,314.3 L654.7,314.0 L655.2,313.8 L655.7,313.5 L656.2,313.3 L656.7,313.0 L657.2,312.8 L657.7,312.5 L658.2,312.3 L658.7,312.0 L659.2,311.8 L659.7,311.5 L660.2,311.3 L660.7,311.0 L661.2,310.8 L661.7,310.5 L662.2,310.3 L662.7,310.1 L663.2,309.8 L663.7,309.6 L664.2,309.3 L664.7,309.1 L665.2,308.9 L665.7,308.6 L666.2,308.4 L666.7,308.1 L667.2,307.9 L667.7,307.7 L668.2,307.4 L668.7,307.2 L669.2,307.0 L669.7,306.7 L670.2,306.5 L670.7,306.3 L671.2,306.1 L671.7,305.8 L672.2,305.6 L672.7,305.4 L673.2,305.2 L673.7,304.9 L674.2,304.7 L674.7,304.5 L675.2,304.3 L675.7,304.0 L676.2,303.8 L676.7,303.6 L677.2,303.4 L677.7,303.1 L678.2,302.9 L678.7,302.7 L679.2,302.5 L679.7,302.3 L680.2,302.0 L680.7,301.8 L681.2,301.6 L681.7,301.3 L682.2,301.1 L682.7,300.9 L683.2,300.6 L683.7,300.4 L684.2,300.2 L684.7,299.9 L685.2,299.7 L685.7,299.4 L686.2,299.2 L686.7,298.9 L687.2,298.7 L687.7,298.4 L688.2,298.2 L688.7,297.9 L689.2,297.7 L689.7,297.4 L690.2,297.2 L690.7,296.9 L691.2,296.7 L691.7,296.4 L692.2,296.1 L692.7,295.9 L693.2,295.6 L693.7,295.3 L694.2,295.1 L694.7,294.8 L695.2,294.6 L695.7,294.3 L696.2,294.0 L696.7,293.8 L697.2,293.5 L697.7,293.2 L698.2,293.0 L698.7,292.7 L699.2,292.4 L699.7,292.2 L700.2,291.9 L700.7,291.6 L701.2,291.4 L701.7,291.1 L702.2,290.8 L702.7,290.5 L703.2,290.3 L703.7,290.0 L704.2,289.7 L704.7,289.5 L705.2,289.2 L705.7,288.9 L706.2,288.6 L706.7,288.4 L707.2,288.1 L707.7,287.8 L708.2,287.5 L708.7,287.2 L709.2,286.9 L709.7,286.6 L710.2,286.4 L710.7,286.1 L711.2,285.8 L711.7,285.5 L712.2,285.2 L712.7,284.9 L713.2,284.6 L713.7,284.3 L714.2,284.0 L714.7,283.7 L715.2,283.4 L715.7,283.1 L716.2,282.8 L716.7,282.5 L717.2,282.2 L717.7,281.9 L718.2,281.6 L718.7,281.3 L719.2,281.0 L719.7,280.7 L720.2,280.4 L720.7,280.1 L721.2,279.8 L721.7,279.5 L722.2,279.2 L722.7,278.9 L723.2,278.6 L723.7,278.3 L724.2,278.0 L724.7,277.7 L725.2,277.4 L725.7,277.1 L726.2,276.8 L726.7,276.5 L727.2,276.2 L727.7,275.9 L728.2,275.6 L728.7,275.3 L729.2,275.0 L729.7,274.7 L730.2,274.4 L730.7,274.1 L731.2,273.8 L731.7,273.5 L732.2,273.2 L732.7,272.9 L733.2,272.6 L733.7,272.4 L734.2,272.1 L734.7,271.8 L735.2,271.5 L735.7,271.2 L736.2,270.9 L736.7,270.6 L737.2,270.3 L737.7,270.0 L738.2,269.7 L738.7,269.4 L739.2,269.1 L739.7,268.8 L740.2,268.5 L740.7,268.2 L741.2,267.9 L741.7,267.6 L742.2,267.3 L742.7,267.0 L743.2,266.7 L743.7,266.4 L744.2,266.1 L744.7,265.8 L745.2,265.5 L745.7,265.2 L746.2,264.9 L746.7,264.6 L747.2,264.3 L747.7,264.0 L748.2,263.7 L748.7,263.4 L749.2,263.1 L749.7,262.8 L750.2,262.6 L750.7,262.3 L751.2,262.0 L751.7,261.7 L752.2,261.4 L752.7,261.1 L753.2,260.8 L753.7,260.5 L754.2,260.2 L754.7,259.9 L755.2,259.6 L755.7,259.3 L756.2,259.0 L756.7,258.7 L757.2,258.4 L757.7,258.1 L758.2,257.8 L758.7,257.5 L759.2,257.2 L759.7,256.9 L760.2,256.6 L760.7,256.3 L761.2,256.0 L761.7,255.7 L762.2,255.4 L762.7,255.1 L763.2,254.8 L763.7,254.5 L764.2,254.2 L764.7,253.9 L765.2,253.7 L765.7,253.4 L766.2,253.1 L766.7,252.8 L767.2,252.5 L767.7,252.2 L768.2,251.9 L768.7,251.6 L769.2,251.3 L769.7,251.0 L770.2,250.7 L770.7,250.4 L771.2,250.1 L771.7,249.8 L772.2,249.5 L772.7,249.2 L773.2,248.9 L773.7,248.6 L774.2,248.3 L774.7,248.0 L775.2,247.7 L775.7,247.4 L776.2,247.1 L776.7,246.8 L777.2,246.5 L777.7,246.3 L778.2,246.0 L778.7,245.7 L779.2,245.4 L779.7,245.1 L780.2,244.8 L780.7,244.5 L781.2,244.2 L781.7,243.9 L782.2,243.6 L782.7,243.3 L783.2,243.0 L783.7,242.7 L784.2,242.4 L784.7,242.1 L785.2,241.8 L785.7,241.5 L786.2,241.2 L786.7,240.9 L787.2,240.6 L787.7,240.3 L788.2,240.1 L788.7,239.8 L789.2,239.5 L789.7,239.2 L790.2,238.9 L790.7,238.6 L791.2,238.3 L791.7,238.0 L792.2,237.7 L792.7,237.4 L793.2,237.1 L793.7,236.8 L794.2,236.5 L794.7,236.2 L795.2,235.9 L795.7,235.6 L796.2,235.3 L796.7,235.0 L797.2,234.7 L797.7,234.4 L798.2,234.1 L798.7,233.8 L799.2,233.5 L799.7,233.2 L800.2,232.8 L800.7,232.5 L801.2,232.2 L801.7,231.9 L802.2,231.6 L802.7,231.3 L803.2,231.0 L803.7,230.7 L804.2,230.4 L804.7,230.1 L805.2,229.8 L805.7,229.4 L806.2,229.1 L806.7,228.8 L807.2,228.5 L807.7,228.2 L808.2,227.9 L808.7,227.6 L809.2,227.2 L809.7,226.9 L810.2,226.6 L810.7,226.3 L811.2,226.0 L811.7,225.7 L812.2,225.3 L812.7,225.0 L813.2,224.7 L813.7,224.4 L814.2,224.0 L814.7,223.7 L815.2,223.4 L815.7,223.0 L816.2,222.7 L816.7,222.4 L817.2,222.0 L817.7,221.7 L818.2,221.3 L818.7,221.0 L819.2,220.6 L819.7,220.3 L820.2,219.9 L820.7,219.6 L821.2,219.2 L821.7,218.9 L822.2,218.5 L822.7,218.1 L823.2,217.8 L823.7,217.4 L824.2,217.0 L824.7,216.7 L825.2,216.3 L825.7,216.0 L826.2,215.6 L826.7,215.2 L827.2,214.9 L827.7,214.5 L828.2,214.2 L828.7,213.8 L829.2,213.5 L829.7,213.2 L830.2,212.8 L830.7,212.5 L831.2,212.1 L831.7,211.8 L832.2,211.5 L832.7,211.1 L833.2,210.8 L833.7,210.5 L834.2,210.1 L834.7,209.8 L835.2,209.5 L835.7,209.2 L836.2,208.8 L836.7,208.5 L837.2,208.2 L837.7,207.9 L838.2,207.5 L838.7,207.2 L839.2,206.9 L839.7,206.6 L840.2,206.2 L840.7,205.9 L841.2,205.6 L841.7,205.3 L842.2,204.9 L842.7,204.6 L843.2,204.3 L843.7,204.0 L844.2,203.6 L844.7,203.3 L845.2,203.0 L845.7,202.7 L846.2,202.3 L846.7,202.0 L847.2,201.7 L847.7,201.4 L848.2,201.0 L848.7,200.7 L849.2,200.4 L849.7,200.1 L850.2,199.7 L850.7,199.4 L851.2,199.1 L851.7,198.8 L852.2,198.5 L852.7,198.1 L853.2,197.8 L853.7,197.5 L854.2,197.2 L854.7,196.8 L855.2,196.5 L855.7,196.2 L856.2,195.9 L856.7,195.5 L857.2,195.2 L857.7,194.9 L858.2,194.6 L858.7,194.2 L859.2,193.9 L859.7,193.6 L860.2,193.3 L860.7,192.9 L861.2,192.6 L861.7,192.3 L862.2,192.0 L862.7,191.6 L863.2,191.3 L863.7,191.0 L864.2,190.7 L864.7,190.4 L865.2,190.0 L865.7,189.7 L866.2,189.4 L866.7,189.1 L867.2,188.7 L867.7,188.4 L868.2,188.1 L868.7,187.8 L869.2,187.4 L869.7,187.1 L870.2,186.8 L870.7,186.5 L871.2,186.1 L871.7,185.8 L872.2,185.5 L872.7,185.2 L873.2,184.8 L873.7,184.5 L874.2,184.2 L874.7,183.8 L875.2,183.5 L875.7,183.2 L876.2,182.9 L876.7,182.5 L877.2,182.2 L877.7,181.9 L878.2,181.6 L878.7,181.2 L879.2,180.9 L879.7,180.6 L880.2,180.3 L880.7,179.9 L881.2,179.6 L881.7,179.3 L882.2,179.0 L882.7,178.6 L883.2,178.3 L883.7,178.0 L884.2,177.7 L884.7,177.3 L885.2,177.0 L885.7,176.7 L886.2,176.3 L886.7,176.0 L887.2,175.7 L887.7,175.4 L888.2,175.0 L888.7,174.7 L889.2,174.4 L889.7,174.1 L890.2,173.7 L890.7,173.4 L891.2,173.1 L891.7,172.8 L892.2,172.4 L892.7,172.1 L893.2,171.8 L893.7,171.4 L894.2,171.1 L894.7,170.8 L895.2,170.5 L895.7,170.1 L896.2,169.8 L896.7,169.5 L897.2,169.2 L897.7,168.8 L898.2,168.5 L898.7,168.2 L899.2,167.9 L899.7,167.5 L900.2,167.2 L900.7,166.9 L901.2,166.5 L901.7,166.2 L902.2,165.9 L902.7,165.6 L903.2,165.2 L903.7,164.9 L904.2,164.6 L904.7,164.3 L905.2,163.9 L905.7,163.6 L906.2,163.3 L906.7,162.9 L907.2,162.6 L907.7,162.3 L908.2,162.0 L908.7,161.6 L909.2,161.3 L909.7,161.0 L910.2,160.7 L910.7,160.3 L911.2,160.0 L911.7,159.7 L912.2,159.3 L912.7,159.0 L913.2,158.7 L913.7,158.4 L914.2,158.0 L914.7,157.7 L915.2,157.4 L915.7,157.1 L916.2,156.7 L916.7,156.4 L917.2,156.1 L917.7,155.7 L918.2,155.4 L918.7,155.1 L919.2,154.8 L919.7,154.4 L920.2,154.1 L920.7,153.8 L921.2,153.5 L921.7,153.1 L922.2,152.8 L922.7,152.5 L923.2,152.1 L923.7,151.8 L924.2,151.5 L924.7,151.2 L925.2,150.8 L925.7,150.5 L926.2,150.2 L926.7,149.9 L927.2,149.5 L927.7,149.2 L928.2,148.9 L928.7,148.5 L929.2,148.2 L929.7,147.9 L930.2,147.6 L930.7,147.2 L931.2,146.9 L931.7,146.6 L932.2,146.3 L932.7,145.9 L933.2,145.6 L933.7,145.3 L934.2,144.9 L934.7,144.6 L935.2,144.3 L935.7,144.0 L936.2,143.6 L936.7,143.3 L937.2,143.0 L937.7,142.7 L938.2,142.3 L938.7,142.0 L939.2,141.7 L939.7,141.3 L940.2,141.0 L940.7,140.7 L941.2,140.4 L941.7,140.0 L942.2,139.7 L942.7,139.4 L943.2,139.1 L943.7,138.7 L944.2,138.4 L944.7,138.1 L945.2,137.7 L945.7,137.4 L946.2,137.1 L946.7,136.8 L947.2,136.4 L947.7,136.1 L948.2,135.8 L948.7,135.5 L949.2,135.1 L949.7,134.8 L950.2,134.5 L950.7,134.1 L951.2,133.8 L951.7,133.5 L952.2,133.2 L952.7,132.8 L953.2,132.5 L953.7,132.2 L954.2,131.9 L954.7,131.5 L955.2,131.2 L955.7,130.9 L956.2,130.5 L956.7,130.2 L957.2,129.9 L957.7,129.6 L958.2,129.2 L958.7,128.9 L959.2,128.6 L959.7,128.3 L960.2,127.9 L960.7,127.6 L961.2,127.3 L961.7,127.0 L962.2,126.6 L962.7,126.3 L963.2,126.0 L963.7,125.6 L964.2,125.3 L964.7,125.0 L965.2,124.7 L965.7,124.3 L966.2,124.0 L966.7,123.7 L967.2,123.4 L967.7,123.0 L968.2,122.7 L968.7,122.4 L969.2,122.0 L969.7,121.7 L970.2,121.4 L970.7,121.1 L971.2,120.7 L971.7,120.4 L972.2,120.1 L972.7,119.8 L973.2,119.4 L973.7,119.1 L974.2,118.8 L974.7,118.4 L975.2,118.1 L975.7,117.8 L976.2,117.5 L976.7,117.1 L977.2,116.8 L977.7,116.5 L978.2,116.2 L978.7,115.8 L979.2,115.5 L979.7,115.2 L980.2,114.9 L980.7,114.5 L981.2,114.2 L981.7,113.9 L982.2,113.6 L982.7,113.2 L983.2,112.9 L983.7,112.6 L984.2,112.3 L984.7,111.9 L985.2,111.6 L985.7,111.3 L986.2,111.0 L986.7,110.6 L987.2,110.3 L987.7,110.0 L988.2,109.7 L988.7,109.3 L989.2,109.0 L989.7,108.7" stroke="#00FFFF" stroke-width="9" fill="none" stroke-linejoin="round"/></g><rect x="603.5" y="19.2" width="371.0" height="369.8" fill="none" stroke="#222" stroke-width="1.4"/><path d="M603.50,389v-6M603.50,19.2v6M665.33,389v-3M665.33,19.2v3M727.17,389v-6M727.17,19.2v6M789.00,389v-3M789.00,19.2v3M850.83,389v-6M850.83,19.2v6M912.67,389v-3M912.67,19.2v3M974.50,389v-6M974.50,19.2v6M603.5,385.60h6M974.5,385.60h-6M603.5,339.71h3M974.5,339.71h-3M603.5,293.83h6M974.5,293.83h-6M603.5,247.94h3M974.5,247.94h-3M603.5,202.05h6M974.5,202.05h-6M603.5,156.16h3M974.5,156.16h-3M603.5,110.28h6M974.5,110.28h-6M603.5,64.39h3M974.5,64.39h-3M603.5,18.50h6M974.5,18.50h-6" stroke="#222" stroke-width="1.4" fill="none"/><text x="597" y="396.3" font-size="36" text-anchor="end" fill="#000" stroke="#000" stroke-width="0.4" >0</text><text x="597" y="304.52500000000003" font-size="36" text-anchor="end" fill="#000" stroke="#000" stroke-width="0.4" >25</text><text x="597" y="212.75000000000003" font-size="36" text-anchor="end" fill="#000" stroke="#000" stroke-width="0.4" >50</text><text x="597" y="120.97500000000004" font-size="36" text-anchor="end" fill="#000" stroke="#000" stroke-width="0.4" >75</text><text x="597" y="29.200000000000056" font-size="36" text-anchor="end" fill="#000" stroke="#000" stroke-width="0.4" >100</text><text x="603.5" y="419.8" font-size="36" text-anchor="middle" fill="#000" stroke="#000" stroke-width="0.4" >0</text><text x="727.1666666666666" y="419.8" font-size="36" text-anchor="middle" fill="#000" stroke="#000" stroke-width="0.4" >100</text><text x="850.8333333333334" y="419.8" font-size="36" text-anchor="middle" fill="#000" stroke="#000" stroke-width="0.4" >200</text><text x="974.5" y="419.8" font-size="36" text-anchor="middle" fill="#000" stroke="#000" stroke-width="0.4" >300</text><text x="789" y="454.4" font-size="36" text-anchor="middle" fill="#000" stroke="#000" stroke-width="0.4" ><tspan font-style="italic">T</tspan> (K)</text><text transform="translate(531,204) rotate(-90)" font-size="36" text-anchor="middle" stroke="#000" stroke-width="0.4"><tspan font-style="italic">R</tspan> (&#937;)</text><text x="894" y="70.3" font-size="26" text-anchor="start" fill="#00FF00" stroke="#00FF00" stroke-width="0.4" >0.9 V</text><text x="912" y="134.6" font-size="26" text-anchor="start" fill="#FF0000" stroke="#FF0000" stroke-width="0.4" >0 V</text><text x="911.5" y="191.5" font-size="25" text-anchor="start" fill="#00FFFF" stroke="#00FFFF" stroke-width="0.4" >1.6 V</text><text x="615" y="51.7" font-size="25.5" text-anchor="start" fill="#000" stroke="#000" stroke-width="0.4" >TaSe<tspan font-size="16" dy="8.5" dx="0.5">2</tspan><tspan dy="-8.5" dx="1.5"> 10 nm</tspan></text><text x="615" y="87.0" font-size="25.5" text-anchor="start" fill="#000" stroke="#000" stroke-width="0.4" >device A</text><text x="6" y="469" font-size="44" stroke="#000" stroke-width="0.4">c</text><clipPath id="cc"><rect x="104.7" y="491" width="369.8" height="369.5"/></clipPath><g clip-path="url(#cc)"><path d="M135.5,857.0 L135.6,856.8 L135.7,856.5 L135.9,856.1 L136.1,855.8 L136.2,855.3 L136.4,854.9 L136.6,854.4 L136.8,853.8 L137.0,853.2 L137.2,852.5 L137.4,851.8 L137.6,851.0 L137.7,850.2 L137.9,849.4 L138.1,848.5 L138.3,847.5 L138.4,846.5 L138.6,845.4 L138.8,844.2 L139.0,843.0 L139.2,841.9 L139.4,840.9 L139.6,840.1 L139.8,839.2 L140.0,838.2 L140.2,837.0 L140.4,835.3 L140.6,833.2 L140.8,830.5 L141.0,827.0 L141.2,822.8 L141.4,817.9 L141.6,812.4 L141.8,806.4 L142.0,800.1 L142.2,793.4 L142.4,786.6 L142.6,779.7 L142.8,772.8 L143.0,766.0 L143.2,759.0 L143.4,751.4 L143.6,743.5 L143.8,735.4 L144.0,727.2 L144.2,719.3 L144.3,711.8 L144.5,704.7 L144.7,698.4 L144.8,693.0 L144.9,688.5 L145.0,684.6 L145.1,681.4 L145.2,678.6 L145.2,676.3 L145.3,674.3 L145.3,672.6 L145.4,671.0 L145.4,669.5 L145.5,668.0 L145.5,666.7 L145.6,665.7 L145.6,665.1 L145.6,664.7 L145.6,664.4 L145.7,664.1 L145.7,663.9 L145.7,663.5 L145.8,662.9 L145.9,662.0 L146.0,660.8 L146.1,659.4 L146.3,657.9 L146.4,656.3 L146.6,654.6 L146.7,652.8 L146.9,651.2 L147.1,649.6 L147.3,648.2 L147.5,647.0 L147.7,645.9 L148.0,645.0 L148.2,644.1 L148.4,643.2 L148.7,642.5 L149.0,641.8 L149.3,641.3 L149.6,640.8 L149.9,640.5 L150.3,640.2 L150.7,640.1 L151.1,640.1 L151.6,640.2 L152.0,640.5 L152.5,640.8 L153.0,641.2 L153.5,641.6 L154.0,642.0 L154.5,642.5 L155.0,643.0 L155.5,643.5 L156.0,644.1 L156.5,644.8 L157.1,645.6 L157.6,646.3 L158.1,647.1 L158.6,647.8 L159.1,648.4 L159.6,649.0 L160.0,649.5 L160.4,649.9 L160.6,650.2 L160.8,650.4 L160.9,650.6 L161.0,650.8 L161.2,650.9 L161.5,651.0 L162.0,651.1 L162.6,651.2 L163.5,651.3 L163.4,651.4 L161.5,651.4 L158.7,651.5 L155.8,651.5 L153.6,651.5 L152.8,651.5 L154.2,651.5 L158.7,651.5 L167.0,651.5 L180.0,651.5 L199.5,651.5 L225.8,651.5 L257.2,651.5 L291.9,651.4 L328.3,651.4 L364.6,651.4 L399.0,651.4 L430.0,651.3 L455.7,651.3 L474.5,651.3" stroke="#333" stroke-width="0.6" fill="none"/><g fill="#000"><rect x="132.2" y="853.7" width="6.6" height="6.6"/><rect x="132.5" y="852.9" width="6.6" height="6.6"/><rect x="132.9" y="852.1" width="6.6" height="6.6"/><rect x="133.2" y="851.3" width="6.6" height="6.6"/><rect x="133.6" y="850.3" width="6.6" height="6.6"/><rect x="133.9" y="849.0" width="6.6" height="6.6"/><rect x="134.3" y="847.5" width="6.6" height="6.6"/><rect x="134.6" y="845.8" width="6.6" height="6.6"/><rect x="135.0" y="844.0" width="6.6" height="6.6"/><rect x="135.3" y="841.9" width="6.6" height="6.6"/><rect x="135.7" y="839.7" width="6.6" height="6.6"/><rect x="136.0" y="837.8" width="6.6" height="6.6"/><rect x="136.4" y="836.3" width="6.6" height="6.6"/><rect x="136.7" y="834.5" width="6.6" height="6.6"/><rect x="137.1" y="831.9" width="6.6" height="6.6"/><rect x="137.4" y="827.8" width="6.6" height="6.6"/><rect x="137.8" y="821.6" width="6.6" height="6.6"/><rect x="138.1" y="813.3" width="6.6" height="6.6"/><rect x="138.5" y="803.4" width="6.6" height="6.6"/><rect x="138.8" y="792.2" width="6.6" height="6.6"/><rect x="139.2" y="780.3" width="6.6" height="6.6"/><rect x="139.5" y="768.0" width="6.6" height="6.6"/><rect x="139.9" y="755.4" width="6.6" height="6.6"/><rect x="140.2" y="741.7" width="6.6" height="6.6"/><rect x="140.6" y="727.3" width="6.6" height="6.6"/><rect x="140.9" y="712.6" width="6.6" height="6.6"/><rect x="141.3" y="697.8" width="6.6" height="6.6"/><rect x="141.6" y="683.8" width="6.6" height="6.6"/><rect x="142.0" y="670.8" width="6.6" height="6.6"/><rect x="142.3" y="661.0" width="6.6" height="6.6"/><rect x="142.7" y="657.6" width="6.6" height="6.6"/><rect x="143.0" y="653.5" width="6.6" height="6.6"/><rect x="143.4" y="649.7" width="6.6" height="6.6"/><rect x="143.7" y="646.6" width="6.6" height="6.6"/><rect x="144.1" y="644.3" width="6.6" height="6.6"/><rect x="144.4" y="642.5" width="6.6" height="6.6"/><rect x="144.8" y="641.1" width="6.6" height="6.6"/><rect x="145.1" y="639.9" width="6.6" height="6.6"/><rect x="145.5" y="639.0" width="6.6" height="6.6"/><rect x="145.8" y="638.2" width="6.6" height="6.6"/><rect x="146.2" y="637.7" width="6.6" height="6.6"/><rect x="146.5" y="637.2" width="6.6" height="6.6"/><rect x="146.9" y="637.0" width="6.6" height="6.6"/><rect x="147.2" y="636.8" width="6.6" height="6.6"/><rect x="147.6" y="636.8" width="6.6" height="6.6"/><rect x="147.9" y="636.8" width="6.6" height="6.6"/><rect x="148.3" y="636.9" width="6.6" height="6.6"/><rect x="148.6" y="637.1" width="6.6" height="6.6"/><rect x="149.0" y="637.3" width="6.6" height="6.6"/><rect x="149.3" y="637.6" width="6.6" height="6.6"/><rect x="149.7" y="637.8" width="6.6" height="6.6"/><rect x="150.0" y="638.1" width="6.6" height="6.6"/><rect x="150.4" y="638.5" width="6.6" height="6.6"/><rect x="150.7" y="638.8" width="6.6" height="6.6"/><rect x="151.1" y="639.1" width="6.6" height="6.6"/><rect x="151.4" y="639.5" width="6.6" height="6.6"/><rect x="151.8" y="639.8" width="6.6" height="6.6"/><rect x="152.1" y="640.2" width="6.6" height="6.6"/><rect x="152.5" y="640.6" width="6.6" height="6.6"/><rect x="152.8" y="641.0" width="6.6" height="6.6"/><rect x="153.2" y="641.5" width="6.6" height="6.6"/><rect x="153.5" y="642.0" width="6.6" height="6.6"/><rect x="153.9" y="642.5" width="6.6" height="6.6"/><rect x="154.2" y="643.0" width="6.6" height="6.6"/><rect x="154.6" y="643.5" width="6.6" height="6.6"/><rect x="154.9" y="644.0" width="6.6" height="6.6"/><rect x="155.3" y="644.5" width="6.6" height="6.6"/><rect x="155.6" y="645.0" width="6.6" height="6.6"/><rect x="156.0" y="645.4" width="6.6" height="6.6"/><rect x="156.3" y="645.8" width="6.6" height="6.6"/><rect x="156.7" y="646.2" width="6.6" height="6.6"/><rect x="157.0" y="646.6" width="6.6" height="6.6"/><rect x="157.4" y="647.1" width="6.6" height="6.6"/><rect x="157.7" y="647.5" width="6.6" height="6.6"/><rect x="158.1" y="647.7" width="6.6" height="6.6"/><rect x="158.4" y="647.8" width="6.6" height="6.6"/><rect x="158.8" y="647.8" width="6.6" height="6.6"/><rect x="159.1" y="647.9" width="6.6" height="6.6"/><rect x="159.5" y="647.9" width="6.6" height="6.6"/><rect x="159.8" y="648.0" width="6.6" height="6.6"/><rect x="160.2" y="648.0" width="6.6" height="6.6"/><rect x="160.5" y="648.2" width="6.6" height="6.6"/><rect x="160.9" y="648.2" width="6.6" height="6.6"/><rect x="161.2" y="648.2" width="6.6" height="6.6"/><rect x="161.6" y="648.2" width="6.6" height="6.6"/><rect x="161.9" y="648.2" width="6.6" height="6.6"/><rect x="162.3" y="648.2" width="6.6" height="6.6"/><rect x="162.6" y="648.2" width="6.6" height="6.6"/><rect x="163.0" y="648.2" width="6.6" height="6.6"/><rect x="163.3" y="648.2" width="6.6" height="6.6"/><rect x="163.7" y="648.2" width="6.6" height="6.6"/><rect x="164.0" y="648.2" width="6.6" height="6.6"/><rect x="164.4" y="648.2" width="6.6" height="6.6"/><rect x="164.7" y="648.2" width="6.6" height="6.6"/><rect x="165.1" y="648.2" width="6.6" height="6.6"/><rect x="165.4" y="648.2" width="6.6" height="6.6"/><rect x="165.8" y="648.2" width="6.6" height="6.6"/><rect x="166.1" y="648.2" width="6.6" height="6.6"/><rect x="166.5" y="648.2" width="6.6" height="6.6"/><rect x="166.8" y="648.2" width="6.6" height="6.6"/><rect x="167.2" y="648.2" width="6.6" height="6.6"/><rect x="167.5" y="648.2" width="6.6" height="6.6"/><rect x="167.9" y="648.2" width="6.6" height="6.6"/><rect x="168.2" y="648.2" width="6.6" height="6.6"/><rect x="168.6" y="648.2" width="6.6" height="6.6"/><rect x="168.9" y="648.2" width="6.6" height="6.6"/><rect x="169.3" y="648.2" width="6.6" height="6.6"/><rect x="169.6" y="648.2" width="6.6" height="6.6"/><rect x="170.0" y="648.2" width="6.6" height="6.6"/><rect x="170.3" y="648.2" width="6.6" height="6.6"/><rect x="170.7" y="648.2" width="6.6" height="6.6"/><rect x="171.0" y="648.2" width="6.6" height="6.6"/><rect x="171.4" y="648.2" width="6.6" height="6.6"/><rect x="171.7" y="648.2" width="6.6" height="6.6"/><rect x="172.1" y="648.2" width="6.6" height="6.6"/><rect x="172.4" y="648.2" width="6.6" height="6.6"/><rect x="172.8" y="648.2" width="6.6" height="6.6"/><rect x="173.1" y="648.2" width="6.6" height="6.6"/><rect x="173.5" y="648.2" width="6.6" height="6.6"/><rect x="173.8" y="648.2" width="6.6" height="6.6"/><rect x="174.2" y="648.2" width="6.6" height="6.6"/><rect x="174.5" y="648.2" width="6.6" height="6.6"/><rect x="174.9" y="648.2" width="6.6" height="6.6"/><rect x="175.2" y="648.2" width="6.6" height="6.6"/><rect x="175.6" y="648.2" width="6.6" height="6.6"/><rect x="175.9" y="648.2" width="6.6" height="6.6"/><rect x="176.3" y="648.2" width="6.6" height="6.6"/><rect x="176.6" y="648.2" width="6.6" height="6.6"/><rect x="177.0" y="648.2" width="6.6" height="6.6"/><rect x="177.3" y="648.2" width="6.6" height="6.6"/><rect x="177.7" y="648.2" width="6.6" height="6.6"/><rect x="178.0" y="648.2" width="6.6" height="6.6"/><rect x="178.4" y="648.2" width="6.6" height="6.6"/><rect x="178.7" y="648.2" width="6.6" height="6.6"/><rect x="179.1" y="648.2" width="6.6" height="6.6"/><rect x="179.4" y="648.2" width="6.6" height="6.6"/><rect x="179.8" y="648.2" width="6.6" height="6.6"/><rect x="180.1" y="648.2" width="6.6" height="6.6"/><rect x="180.5" y="648.2" width="6.6" height="6.6"/><rect x="180.8" y="648.2" width="6.6" height="6.6"/><rect x="181.2" y="648.2" width="6.6" height="6.6"/><rect x="181.5" y="648.2" width="6.6" height="6.6"/><rect x="181.9" y="648.2" width="6.6" height="6.6"/><rect x="182.2" y="648.2" width="6.6" height="6.6"/><rect x="182.6" y="648.2" width="6.6" height="6.6"/><rect x="182.9" y="648.2" width="6.6" height="6.6"/><rect x="183.3" y="648.2" width="6.6" height="6.6"/><rect x="183.6" y="648.2" width="6.6" height="6.6"/><rect x="184.0" y="648.2" width="6.6" height="6.6"/><rect x="184.3" y="648.2" width="6.6" height="6.6"/><rect x="184.7" y="648.2" width="6.6" height="6.6"/><rect x="185.0" y="648.2" width="6.6" height="6.6"/><rect x="185.4" y="648.2" width="6.6" height="6.6"/><rect x="185.7" y="648.2" width="6.6" height="6.6"/><rect x="186.1" y="648.2" width="6.6" height="6.6"/><rect x="186.4" y="648.2" width="6.6" height="6.6"/><rect x="186.8" y="648.2" width="6.6" height="6.6"/><rect x="187.1" y="648.2" width="6.6" height="6.6"/><rect x="187.5" y="648.2" width="6.6" height="6.6"/><rect x="187.8" y="648.2" width="6.6" height="6.6"/><rect x="188.2" y="648.2" width="6.6" height="6.6"/><rect x="188.5" y="648.2" width="6.6" height="6.6"/><rect x="188.9" y="648.2" width="6.6" height="6.6"/><rect x="189.2" y="648.2" width="6.6" height="6.6"/><rect x="189.6" y="648.2" width="6.6" height="6.6"/><rect x="189.9" y="648.2" width="6.6" height="6.6"/><rect x="190.3" y="648.2" width="6.6" height="6.6"/><rect x="190.6" y="648.2" width="6.6" height="6.6"/><rect x="191.0" y="648.2" width="6.6" height="6.6"/><rect x="191.3" y="648.2" width="6.6" height="6.6"/><rect x="191.7" y="648.2" width="6.6" height="6.6"/><rect x="192.0" y="648.2" width="6.6" height="6.6"/><rect x="192.4" y="648.2" width="6.6" height="6.6"/><rect x="192.7" y="648.2" width="6.6" height="6.6"/><rect x="193.1" y="648.2" width="6.6" height="6.6"/><rect x="193.4" y="648.2" width="6.6" height="6.6"/><rect x="193.8" y="648.2" width="6.6" height="6.6"/><rect x="194.1" y="648.2" width="6.6" height="6.6"/><rect x="194.5" y="648.2" width="6.6" height="6.6"/><rect x="194.8" y="648.2" width="6.6" height="6.6"/><rect x="195.2" y="648.2" width="6.6" height="6.6"/><rect x="195.5" y="648.2" width="6.6" height="6.6"/><rect x="195.9" y="648.2" width="6.6" height="6.6"/><rect x="196.2" y="648.2" width="6.6" height="6.6"/><rect x="196.6" y="648.2" width="6.6" height="6.6"/><rect x="196.9" y="648.2" width="6.6" height="6.6"/><rect x="197.3" y="648.2" width="6.6" height="6.6"/><rect x="197.6" y="648.2" width="6.6" height="6.6"/><rect x="198.0" y="648.2" width="6.6" height="6.6"/><rect x="198.3" y="648.2" width="6.6" height="6.6"/><rect x="198.7" y="648.2" width="6.6" height="6.6"/><rect x="199.0" y="648.2" width="6.6" height="6.6"/><rect x="199.4" y="648.2" width="6.6" height="6.6"/><rect x="199.7" y="648.2" width="6.6" height="6.6"/><rect x="200.1" y="648.2" width="6.6" height="6.6"/><rect x="200.4" y="648.2" width="6.6" height="6.6"/><rect x="200.8" y="648.2" width="6.6" height="6.6"/><rect x="201.1" y="648.2" width="6.6" height="6.6"/><rect x="201.5" y="648.2" width="6.6" height="6.6"/><rect x="201.8" y="648.2" width="6.6" height="6.6"/><rect x="202.2" y="648.2" width="6.6" height="6.6"/><rect x="202.5" y="648.2" width="6.6" height="6.6"/><rect x="202.9" y="648.2" width="6.6" height="6.6"/><rect x="203.2" y="648.2" width="6.6" height="6.6"/><rect x="203.6" y="648.2" width="6.6" height="6.6"/><rect x="203.9" y="648.2" width="6.6" height="6.6"/><rect x="204.3" y="648.2" width="6.6" height="6.6"/><rect x="204.6" y="648.2" width="6.6" height="6.6"/><rect x="205.0" y="648.2" width="6.6" height="6.6"/><rect x="205.3" y="648.2" width="6.6" height="6.6"/><rect x="205.7" y="648.2" width="6.6" height="6.6"/><rect x="206.0" y="648.2" width="6.6" height="6.6"/><rect x="206.4" y="648.2" width="6.6" height="6.6"/><rect x="206.7" y="648.2" width="6.6" height="6.6"/><rect x="207.1" y="648.2" width="6.6" height="6.6"/><rect x="207.4" y="648.2" width="6.6" height="6.6"/><rect x="207.8" y="648.2" width="6.6" height="6.6"/><rect x="208.1" y="648.2" width="6.6" height="6.6"/><rect x="208.5" y="648.2" width="6.6" height="6.6"/><rect x="208.8" y="648.2" width="6.6" height="6.6"/><rect x="209.2" y="648.2" width="6.6" height="6.6"/><rect x="209.5" y="648.2" width="6.6" height="6.6"/><rect x="209.9" y="648.2" width="6.6" height="6.6"/><rect x="210.2" y="648.2" width="6.6" height="6.6"/><rect x="210.6" y="648.2" width="6.6" height="6.6"/><rect x="210.9" y="648.2" width="6.6" height="6.6"/><rect x="211.3" y="648.2" width="6.6" height="6.6"/><rect x="211.6" y="648.2" width="6.6" height="6.6"/><rect x="212.0" y="648.2" width="6.6" height="6.6"/><rect x="212.3" y="648.2" width="6.6" height="6.6"/><rect x="212.7" y="648.2" width="6.6" height="6.6"/><rect x="213.0" y="648.2" width="6.6" height="6.6"/><rect x="213.4" y="648.2" width="6.6" height="6.6"/><rect x="213.7" y="648.2" width="6.6" height="6.6"/><rect x="214.1" y="648.2" width="6.6" height="6.6"/><rect x="214.4" y="648.2" width="6.6" height="6.6"/><rect x="214.8" y="648.2" width="6.6" height="6.6"/><rect x="215.1" y="648.2" width="6.6" height="6.6"/><rect x="215.5" y="648.2" width="6.6" height="6.6"/><rect x="215.8" y="648.2" width="6.6" height="6.6"/><rect x="216.2" y="648.2" width="6.6" height="6.6"/><rect x="216.5" y="648.2" width="6.6" height="6.6"/><rect x="216.9" y="648.2" width="6.6" height="6.6"/><rect x="217.2" y="648.2" width="6.6" height="6.6"/><rect x="217.6" y="648.2" width="6.6" height="6.6"/><rect x="217.9" y="648.2" width="6.6" height="6.6"/><rect x="218.3" y="648.2" width="6.6" height="6.6"/><rect x="218.6" y="648.2" width="6.6" height="6.6"/><rect x="219.0" y="648.2" width="6.6" height="6.6"/><rect x="219.3" y="648.2" width="6.6" height="6.6"/><rect x="219.7" y="648.2" width="6.6" height="6.6"/><rect x="220.0" y="648.2" width="6.6" height="6.6"/><rect x="220.4" y="648.2" width="6.6" height="6.6"/><rect x="220.7" y="648.2" width="6.6" height="6.6"/><rect x="221.1" y="648.2" width="6.6" height="6.6"/><rect x="221.4" y="648.2" width="6.6" height="6.6"/><rect x="221.8" y="648.2" width="6.6" height="6.6"/><rect x="222.1" y="648.2" width="6.6" height="6.6"/><rect x="222.5" y="648.2" width="6.6" height="6.6"/><rect x="222.8" y="648.2" width="6.6" height="6.6"/><rect x="223.2" y="648.2" width="6.6" height="6.6"/><rect x="223.5" y="648.2" width="6.6" height="6.6"/><rect x="223.9" y="648.2" width="6.6" height="6.6"/><rect x="224.2" y="648.2" width="6.6" height="6.6"/><rect x="224.6" y="648.2" width="6.6" height="6.6"/><rect x="224.9" y="648.2" width="6.6" height="6.6"/><rect x="225.3" y="648.2" width="6.6" height="6.6"/><rect x="225.6" y="648.2" width="6.6" height="6.6"/><rect x="226.0" y="648.2" width="6.6" height="6.6"/><rect x="226.3" y="648.2" width="6.6" height="6.6"/><rect x="226.7" y="648.2" width="6.6" height="6.6"/><rect x="227.0" y="648.2" width="6.6" height="6.6"/><rect x="227.4" y="648.2" width="6.6" height="6.6"/><rect x="227.7" y="648.2" width="6.6" height="6.6"/><rect x="228.1" y="648.2" width="6.6" height="6.6"/><rect x="228.4" y="648.2" width="6.6" height="6.6"/><rect x="228.8" y="648.2" width="6.6" height="6.6"/><rect x="229.1" y="648.2" width="6.6" height="6.6"/><rect x="229.5" y="648.2" width="6.6" height="6.6"/><rect x="229.8" y="648.2" width="6.6" height="6.6"/><rect x="230.2" y="648.2" width="6.6" height="6.6"/><rect x="230.5" y="648.2" width="6.6" height="6.6"/><rect x="230.9" y="648.2" width="6.6" height="6.6"/><rect x="231.2" y="648.2" width="6.6" height="6.6"/><rect x="231.6" y="648.2" width="6.6" height="6.6"/><rect x="231.9" y="648.2" width="6.6" height="6.6"/><rect x="232.3" y="648.2" width="6.6" height="6.6"/><rect x="232.6" y="648.2" width="6.6" height="6.6"/><rect x="233.0" y="648.2" width="6.6" height="6.6"/><rect x="233.3" y="648.2" width="6.6" height="6.6"/><rect x="233.7" y="648.2" width="6.6" height="6.6"/><rect x="234.0" y="648.2" width="6.6" height="6.6"/><rect x="234.4" y="648.2" width="6.6" height="6.6"/><rect x="234.7" y="648.2" width="6.6" height="6.6"/><rect x="235.1" y="648.2" width="6.6" height="6.6"/><rect x="235.4" y="648.2" width="6.6" height="6.6"/><rect x="235.8" y="648.2" width="6.6" height="6.6"/><rect x="236.1" y="648.2" width="6.6" height="6.6"/><rect x="236.5" y="648.2" width="6.6" height="6.6"/><rect x="236.8" y="648.2" width="6.6" height="6.6"/><rect x="237.2" y="648.2" width="6.6" height="6.6"/><rect x="237.5" y="648.2" width="6.6" height="6.6"/><rect x="237.9" y="648.2" width="6.6" height="6.6"/><rect x="238.2" y="648.2" width="6.6" height="6.6"/><rect x="238.6" y="648.2" width="6.6" height="6.6"/><rect x="238.9" y="648.2" width="6.6" height="6.6"/><rect x="239.3" y="648.2" width="6.6" height="6.6"/><rect x="239.6" y="648.2" width="6.6" height="6.6"/><rect x="240.0" y="648.2" width="6.6" height="6.6"/><rect x="240.3" y="648.2" width="6.6" height="6.6"/><rect x="240.7" y="648.2" width="6.6" height="6.6"/><rect x="241.0" y="648.2" width="6.6" height="6.6"/><rect x="241.4" y="648.2" width="6.6" height="6.6"/><rect x="241.7" y="648.2" width="6.6" height="6.6"/><rect x="242.1" y="648.2" width="6.6" height="6.6"/><rect x="242.4" y="648.2" width="6.6" height="6.6"/><rect x="242.8" y="648.2" width="6.6" height="6.6"/><rect x="243.1" y="648.2" width="6.6" height="6.6"/><rect x="243.5" y="648.2" width="6.6" height="6.6"/><rect x="243.8" y="648.2" width="6.6" height="6.6"/><rect x="244.2" y="648.2" width="6.6" height="6.6"/><rect x="244.5" y="648.2" width="6.6" height="6.6"/><rect x="244.9" y="648.2" width="6.6" height="6.6"/><rect x="245.2" y="648.2" width="6.6" height="6.6"/><rect x="245.6" y="648.2" width="6.6" height="6.6"/><rect x="245.9" y="648.2" width="6.6" height="6.6"/><rect x="246.3" y="648.2" width="6.6" height="6.6"/><rect x="246.6" y="648.2" width="6.6" height="6.6"/><rect x="247.0" y="648.2" width="6.6" height="6.6"/><rect x="247.3" y="648.2" width="6.6" height="6.6"/><rect x="247.7" y="648.2" width="6.6" height="6.6"/><rect x="248.0" y="648.2" width="6.6" height="6.6"/><rect x="248.4" y="648.2" width="6.6" height="6.6"/><rect x="248.7" y="648.2" width="6.6" height="6.6"/><rect x="249.1" y="648.2" width="6.6" height="6.6"/><rect x="249.4" y="648.2" width="6.6" height="6.6"/><rect x="249.8" y="648.2" width="6.6" height="6.6"/><rect x="250.1" y="648.2" width="6.6" height="6.6"/><rect x="250.5" y="648.2" width="6.6" height="6.6"/><rect x="250.8" y="648.2" width="6.6" height="6.6"/><rect x="251.2" y="648.2" width="6.6" height="6.6"/><rect x="251.5" y="648.2" width="6.6" height="6.6"/><rect x="251.9" y="648.2" width="6.6" height="6.6"/><rect x="252.2" y="648.2" width="6.6" height="6.6"/><rect x="252.6" y="648.2" width="6.6" height="6.6"/><rect x="252.9" y="648.2" width="6.6" height="6.6"/><rect x="253.3" y="648.2" width="6.6" height="6.6"/><rect x="253.6" y="648.2" width="6.6" height="6.6"/><rect x="254.0" y="648.2" width="6.6" height="6.6"/><rect x="254.3" y="648.2" width="6.6" height="6.6"/><rect x="254.7" y="648.2" width="6.6" height="6.6"/><rect x="255.0" y="648.2" width="6.6" height="6.6"/><rect x="255.4" y="648.2" width="6.6" height="6.6"/><rect x="255.7" y="648.2" width="6.6" height="6.6"/><rect x="256.1" y="648.2" width="6.6" height="6.6"/><rect x="256.4" y="648.2" width="6.6" height="6.6"/><rect x="256.8" y="648.2" width="6.6" height="6.6"/><rect x="257.1" y="648.2" width="6.6" height="6.6"/><rect x="257.5" y="648.2" width="6.6" height="6.6"/><rect x="257.8" y="648.2" width="6.6" height="6.6"/><rect x="258.2" y="648.2" width="6.6" height="6.6"/><rect x="258.5" y="648.2" width="6.6" height="6.6"/><rect x="258.9" y="648.2" width="6.6" height="6.6"/><rect x="259.2" y="648.2" width="6.6" height="6.6"/><rect x="259.6" y="648.2" width="6.6" height="6.6"/><rect x="259.9" y="648.2" width="6.6" height="6.6"/><rect x="260.3" y="648.2" width="6.6" height="6.6"/><rect x="260.6" y="648.2" width="6.6" height="6.6"/><rect x="261.0" y="648.2" width="6.6" height="6.6"/><rect x="261.3" y="648.2" width="6.6" height="6.6"/><rect x="261.7" y="648.2" width="6.6" height="6.6"/><rect x="262.0" y="648.2" width="6.6" height="6.6"/><rect x="262.4" y="648.2" width="6.6" height="6.6"/><rect x="262.7" y="648.2" width="6.6" height="6.6"/><rect x="263.1" y="648.2" width="6.6" height="6.6"/><rect x="263.4" y="648.2" width="6.6" height="6.6"/><rect x="263.8" y="648.2" width="6.6" height="6.6"/><rect x="264.1" y="648.2" width="6.6" height="6.6"/><rect x="264.5" y="648.2" width="6.6" height="6.6"/><rect x="264.8" y="648.2" width="6.6" height="6.6"/><rect x="265.2" y="648.2" width="6.6" height="6.6"/><rect x="265.5" y="648.2" width="6.6" height="6.6"/><rect x="265.9" y="648.2" width="6.6" height="6.6"/><rect x="266.2" y="648.2" width="6.6" height="6.6"/><rect x="266.6" y="648.2" width="6.6" height="6.6"/><rect x="266.9" y="648.2" width="6.6" height="6.6"/><rect x="267.3" y="648.2" width="6.6" height="6.6"/><rect x="267.6" y="648.2" width="6.6" height="6.6"/><rect x="268.0" y="648.2" width="6.6" height="6.6"/><rect x="268.3" y="648.2" width="6.6" height="6.6"/><rect x="268.7" y="648.2" width="6.6" height="6.6"/><rect x="269.0" y="648.2" width="6.6" height="6.6"/><rect x="269.4" y="648.2" width="6.6" height="6.6"/><rect x="269.7" y="648.2" width="6.6" height="6.6"/><rect x="270.1" y="648.2" width="6.6" height="6.6"/><rect x="270.4" y="648.2" width="6.6" height="6.6"/><rect x="270.8" y="648.2" width="6.6" height="6.6"/><rect x="271.1" y="648.2" width="6.6" height="6.6"/><rect x="271.5" y="648.2" width="6.6" height="6.6"/><rect x="271.8" y="648.2" width="6.6" height="6.6"/><rect x="272.2" y="648.2" width="6.6" height="6.6"/><rect x="272.5" y="648.2" width="6.6" height="6.6"/><rect x="272.9" y="648.2" width="6.6" height="6.6"/><rect x="273.2" y="648.1" width="6.6" height="6.6"/><rect x="273.6" y="648.1" width="6.6" height="6.6"/><rect x="273.9" y="648.1" width="6.6" height="6.6"/><rect x="274.3" y="648.1" width="6.6" height="6.6"/><rect x="274.6" y="648.1" width="6.6" height="6.6"/><rect x="275.0" y="648.1" width="6.6" height="6.6"/><rect x="275.3" y="648.1" width="6.6" height="6.6"/><rect x="275.7" y="648.1" width="6.6" height="6.6"/><rect x="276.0" y="648.1" width="6.6" height="6.6"/><rect x="276.4" y="648.1" width="6.6" height="6.6"/><rect x="276.7" y="648.1" width="6.6" height="6.6"/><rect x="277.1" y="648.1" width="6.6" height="6.6"/><rect x="277.4" y="648.1" width="6.6" height="6.6"/><rect x="277.8" y="648.1" width="6.6" height="6.6"/><rect x="278.1" y="648.1" width="6.6" height="6.6"/><rect x="278.5" y="648.1" width="6.6" height="6.6"/><rect x="278.8" y="648.1" width="6.6" height="6.6"/><rect x="279.2" y="648.1" width="6.6" height="6.6"/><rect x="279.5" y="648.1" width="6.6" height="6.6"/><rect x="279.9" y="648.1" width="6.6" height="6.6"/><rect x="280.2" y="648.1" width="6.6" height="6.6"/><rect x="280.6" y="648.1" width="6.6" height="6.6"/><rect x="280.9" y="648.1" width="6.6" height="6.6"/><rect x="281.3" y="648.1" width="6.6" height="6.6"/><rect x="281.6" y="648.1" width="6.6" height="6.6"/><rect x="282.0" y="648.1" width="6.6" height="6.6"/><rect x="282.3" y="648.1" width="6.6" height="6.6"/><rect x="282.7" y="648.1" width="6.6" height="6.6"/><rect x="283.1" y="648.1" width="6.6" height="6.6"/><rect x="283.4" y="648.1" width="6.6" height="6.6"/><rect x="283.8" y="648.1" width="6.6" height="6.6"/><rect x="284.1" y="648.1" width="6.6" height="6.6"/><rect x="284.5" y="648.1" width="6.6" height="6.6"/><rect x="284.8" y="648.1" width="6.6" height="6.6"/><rect x="285.2" y="648.1" width="6.6" height="6.6"/><rect x="285.5" y="648.1" width="6.6" height="6.6"/><rect x="285.9" y="648.1" width="6.6" height="6.6"/><rect x="286.2" y="648.1" width="6.6" height="6.6"/><rect x="286.6" y="648.1" width="6.6" height="6.6"/><rect x="286.9" y="648.1" width="6.6" height="6.6"/><rect x="287.3" y="648.1" width="6.6" height="6.6"/><rect x="287.6" y="648.1" width="6.6" height="6.6"/><rect x="288.0" y="648.1" width="6.6" height="6.6"/><rect x="288.3" y="648.1" width="6.6" height="6.6"/><rect x="288.7" y="648.1" width="6.6" height="6.6"/><rect x="289.0" y="648.1" width="6.6" height="6.6"/><rect x="289.4" y="648.1" width="6.6" height="6.6"/><rect x="289.7" y="648.1" width="6.6" height="6.6"/><rect x="290.1" y="648.1" width="6.6" height="6.6"/><rect x="290.4" y="648.1" width="6.6" height="6.6"/><rect x="290.8" y="648.1" width="6.6" height="6.6"/><rect x="291.1" y="648.1" width="6.6" height="6.6"/><rect x="291.5" y="648.1" width="6.6" height="6.6"/><rect x="291.8" y="648.1" width="6.6" height="6.6"/><rect x="292.2" y="648.1" width="6.6" height="6.6"/><rect x="292.5" y="648.1" width="6.6" height="6.6"/><rect x="292.9" y="648.1" width="6.6" height="6.6"/><rect x="293.2" y="648.1" width="6.6" height="6.6"/><rect x="293.6" y="648.1" width="6.6" height="6.6"/><rect x="293.9" y="648.1" width="6.6" height="6.6"/><rect x="294.3" y="648.1" width="6.6" height="6.6"/><rect x="294.6" y="648.1" width="6.6" height="6.6"/><rect x="295.0" y="648.1" width="6.6" height="6.6"/><rect x="295.3" y="648.1" width="6.6" height="6.6"/><rect x="295.7" y="648.1" width="6.6" height="6.6"/><rect x="296.0" y="648.1" width="6.6" height="6.6"/><rect x="296.4" y="648.1" width="6.6" height="6.6"/><rect x="296.7" y="648.1" width="6.6" height="6.6"/><rect x="297.1" y="648.1" width="6.6" height="6.6"/><rect x="297.4" y="648.1" width="6.6" height="6.6"/><rect x="297.8" y="648.1" width="6.6" height="6.6"/><rect x="298.1" y="648.1" width="6.6" height="6.6"/><rect x="298.5" y="648.1" width="6.6" height="6.6"/><rect x="298.8" y="648.1" width="6.6" height="6.6"/><rect x="299.2" y="648.1" width="6.6" height="6.6"/><rect x="299.5" y="648.1" width="6.6" height="6.6"/><rect x="299.9" y="648.1" width="6.6" height="6.6"/><rect x="300.2" y="648.1" width="6.6" height="6.6"/><rect x="300.6" y="648.1" width="6.6" height="6.6"/><rect x="300.9" y="648.1" width="6.6" height="6.6"/><rect x="301.3" y="648.1" width="6.6" height="6.6"/><rect x="301.6" y="648.1" width="6.6" height="6.6"/><rect x="302.0" y="648.1" width="6.6" height="6.6"/><rect x="302.3" y="648.1" width="6.6" height="6.6"/><rect x="302.7" y="648.1" width="6.6" height="6.6"/><rect x="303.0" y="648.1" width="6.6" height="6.6"/><rect x="303.4" y="648.1" width="6.6" height="6.6"/><rect x="303.7" y="648.1" width="6.6" height="6.6"/><rect x="304.1" y="648.1" width="6.6" height="6.6"/><rect x="304.4" y="648.1" width="6.6" height="6.6"/><rect x="304.8" y="648.1" width="6.6" height="6.6"/><rect x="305.1" y="648.1" width="6.6" height="6.6"/><rect x="305.5" y="648.1" width="6.6" height="6.6"/><rect x="305.8" y="648.1" width="6.6" height="6.6"/><rect x="306.2" y="648.1" width="6.6" height="6.6"/><rect x="306.5" y="648.1" width="6.6" height="6.6"/><rect x="306.9" y="648.1" width="6.6" height="6.6"/><rect x="307.2" y="648.1" width="6.6" height="6.6"/><rect x="307.6" y="648.1" width="6.6" height="6.6"/><rect x="307.9" y="648.1" width="6.6" height="6.6"/><rect x="308.3" y="648.1" width="6.6" height="6.6"/><rect x="308.6" y="648.1" width="6.6" height="6.6"/><rect x="309.0" y="648.1" width="6.6" height="6.6"/><rect x="309.3" y="648.1" width="6.6" height="6.6"/><rect x="309.7" y="648.1" width="6.6" height="6.6"/><rect x="310.0" y="648.1" width="6.6" height="6.6"/><rect x="310.4" y="648.1" width="6.6" height="6.6"/><rect x="310.7" y="648.1" width="6.6" height="6.6"/><rect x="311.1" y="648.1" width="6.6" height="6.6"/><rect x="311.4" y="648.1" width="6.6" height="6.6"/><rect x="311.8" y="648.1" width="6.6" height="6.6"/><rect x="312.1" y="648.1" width="6.6" height="6.6"/><rect x="312.5" y="648.1" width="6.6" height="6.6"/><rect x="312.8" y="648.1" width="6.6" height="6.6"/><rect x="313.2" y="648.1" width="6.6" height="6.6"/><rect x="313.5" y="648.1" width="6.6" height="6.6"/><rect x="313.9" y="648.1" width="6.6" height="6.6"/><rect x="314.2" y="648.1" width="6.6" height="6.6"/><rect x="314.6" y="648.1" width="6.6" height="6.6"/><rect x="314.9" y="648.1" width="6.6" height="6.6"/><rect x="315.3" y="648.1" width="6.6" height="6.6"/><rect x="315.6" y="648.1" width="6.6" height="6.6"/><rect x="316.0" y="648.1" width="6.6" height="6.6"/><rect x="316.3" y="648.1" width="6.6" height="6.6"/><rect x="316.7" y="648.1" width="6.6" height="6.6"/><rect x="317.0" y="648.1" width="6.6" height="6.6"/><rect x="317.4" y="648.1" width="6.6" height="6.6"/><rect x="317.7" y="648.1" width="6.6" height="6.6"/><rect x="318.1" y="648.1" width="6.6" height="6.6"/><rect x="318.4" y="648.1" width="6.6" height="6.6"/><rect x="318.8" y="648.1" width="6.6" height="6.6"/><rect x="319.1" y="648.1" width="6.6" height="6.6"/><rect x="319.5" y="648.1" width="6.6" height="6.6"/><rect x="319.8" y="648.1" width="6.6" height="6.6"/><rect x="320.2" y="648.1" width="6.6" height="6.6"/><rect x="320.5" y="648.1" width="6.6" height="6.6"/><rect x="320.9" y="648.1" width="6.6" height="6.6"/><rect x="321.2" y="648.1" width="6.6" height="6.6"/><rect x="321.6" y="648.1" width="6.6" height="6.6"/><rect x="321.9" y="648.1" width="6.6" height="6.6"/><rect x="322.3" y="648.1" width="6.6" height="6.6"/><rect x="322.6" y="648.1" width="6.6" height="6.6"/><rect x="323.0" y="648.1" width="6.6" height="6.6"/><rect x="323.3" y="648.1" width="6.6" height="6.6"/><rect x="323.7" y="648.1" width="6.6" height="6.6"/><rect x="324.0" y="648.1" width="6.6" height="6.6"/><rect x="324.4" y="648.1" width="6.6" height="6.6"/><rect x="324.7" y="648.1" width="6.6" height="6.6"/><rect x="325.1" y="648.1" width="6.6" height="6.6"/><rect x="325.4" y="648.1" width="6.6" height="6.6"/><rect x="325.8" y="648.1" width="6.6" height="6.6"/><rect x="326.1" y="648.1" width="6.6" height="6.6"/><rect x="326.5" y="648.1" width="6.6" height="6.6"/><rect x="326.8" y="648.1" width="6.6" height="6.6"/><rect x="327.2" y="648.1" width="6.6" height="6.6"/><rect x="327.5" y="648.1" width="6.6" height="6.6"/><rect x="327.9" y="648.1" width="6.6" height="6.6"/><rect x="328.2" y="648.1" width="6.6" height="6.6"/><rect x="328.6" y="648.1" width="6.6" height="6.6"/><rect x="328.9" y="648.1" width="6.6" height="6.6"/><rect x="329.3" y="648.1" width="6.6" height="6.6"/><rect x="329.6" y="648.1" width="6.6" height="6.6"/><rect x="330.0" y="648.1" width="6.6" height="6.6"/><rect x="330.3" y="648.1" width="6.6" height="6.6"/><rect x="330.7" y="648.1" width="6.6" height="6.6"/><rect x="331.0" y="648.1" width="6.6" height="6.6"/><rect x="331.4" y="648.1" width="6.6" height="6.6"/><rect x="331.7" y="648.1" width="6.6" height="6.6"/><rect x="332.1" y="648.1" width="6.6" height="6.6"/><rect x="332.4" y="648.1" width="6.6" height="6.6"/><rect x="332.8" y="648.1" width="6.6" height="6.6"/><rect x="333.1" y="648.1" width="6.6" height="6.6"/><rect x="333.5" y="648.1" width="6.6" height="6.6"/><rect x="333.8" y="648.1" width="6.6" height="6.6"/><rect x="334.2" y="648.1" width="6.6" height="6.6"/><rect x="334.5" y="648.1" width="6.6" height="6.6"/><rect x="334.9" y="648.1" width="6.6" height="6.6"/><rect x="335.2" y="648.1" width="6.6" height="6.6"/><rect x="335.6" y="648.1" width="6.6" height="6.6"/><rect x="335.9" y="648.1" width="6.6" height="6.6"/><rect x="336.3" y="648.1" width="6.6" height="6.6"/><rect x="336.6" y="648.1" width="6.6" height="6.6"/><rect x="337.0" y="648.1" width="6.6" height="6.6"/><rect x="337.3" y="648.1" width="6.6" height="6.6"/><rect x="337.7" y="648.1" width="6.6" height="6.6"/><rect x="338.0" y="648.1" width="6.6" height="6.6"/><rect x="338.4" y="648.1" width="6.6" height="6.6"/><rect x="338.7" y="648.1" width="6.6" height="6.6"/><rect x="339.1" y="648.1" width="6.6" height="6.6"/><rect x="339.4" y="648.1" width="6.6" height="6.6"/><rect x="339.8" y="648.1" width="6.6" height="6.6"/><rect x="340.1" y="648.1" width="6.6" height="6.6"/><rect x="340.5" y="648.1" width="6.6" height="6.6"/><rect x="340.8" y="648.1" width="6.6" height="6.6"/><rect x="341.2" y="648.1" width="6.6" height="6.6"/><rect x="341.5" y="648.1" width="6.6" height="6.6"/><rect x="341.9" y="648.1" width="6.6" height="6.6"/><rect x="342.2" y="648.1" width="6.6" height="6.6"/><rect x="342.6" y="648.1" width="6.6" height="6.6"/><rect x="342.9" y="648.1" width="6.6" height="6.6"/><rect x="343.3" y="648.1" width="6.6" height="6.6"/><rect x="343.6" y="648.1" width="6.6" height="6.6"/><rect x="344.0" y="648.1" width="6.6" height="6.6"/><rect x="344.3" y="648.1" width="6.6" height="6.6"/><rect x="344.7" y="648.1" width="6.6" height="6.6"/><rect x="345.0" y="648.1" width="6.6" height="6.6"/><rect x="345.4" y="648.1" width="6.6" height="6.6"/><rect x="345.7" y="648.1" width="6.6" height="6.6"/><rect x="346.1" y="648.1" width="6.6" height="6.6"/><rect x="346.4" y="648.1" width="6.6" height="6.6"/><rect x="346.8" y="648.1" width="6.6" height="6.6"/><rect x="347.1" y="648.1" width="6.6" height="6.6"/><rect x="347.5" y="648.1" width="6.6" height="6.6"/><rect x="347.8" y="648.1" width="6.6" height="6.6"/><rect x="348.2" y="648.1" width="6.6" height="6.6"/><rect x="348.5" y="648.1" width="6.6" height="6.6"/><rect x="348.9" y="648.1" width="6.6" height="6.6"/><rect x="349.2" y="648.1" width="6.6" height="6.6"/><rect x="349.6" y="648.1" width="6.6" height="6.6"/><rect x="349.9" y="648.1" width="6.6" height="6.6"/><rect x="350.3" y="648.1" width="6.6" height="6.6"/><rect x="350.6" y="648.1" width="6.6" height="6.6"/><rect x="351.0" y="648.1" width="6.6" height="6.6"/><rect x="351.3" y="648.1" width="6.6" height="6.6"/><rect x="351.7" y="648.1" width="6.6" height="6.6"/><rect x="352.0" y="648.1" width="6.6" height="6.6"/><rect x="352.4" y="648.1" width="6.6" height="6.6"/><rect x="352.7" y="648.1" width="6.6" height="6.6"/><rect x="353.1" y="648.1" width="6.6" height="6.6"/><rect x="353.4" y="648.1" width="6.6" height="6.6"/><rect x="353.8" y="648.1" width="6.6" height="6.6"/><rect x="354.1" y="648.1" width="6.6" height="6.6"/><rect x="354.5" y="648.1" width="6.6" height="6.6"/><rect x="354.8" y="648.1" width="6.6" height="6.6"/><rect x="355.2" y="648.1" width="6.6" height="6.6"/><rect x="355.5" y="648.1" width="6.6" height="6.6"/><rect x="355.9" y="648.1" width="6.6" height="6.6"/><rect x="356.2" y="648.1" width="6.6" height="6.6"/><rect x="356.6" y="648.1" width="6.6" height="6.6"/><rect x="356.9" y="648.1" width="6.6" height="6.6"/><rect x="357.3" y="648.1" width="6.6" height="6.6"/><rect x="357.6" y="648.1" width="6.6" height="6.6"/><rect x="358.0" y="648.1" width="6.6" height="6.6"/><rect x="358.3" y="648.1" width="6.6" height="6.6"/><rect x="358.7" y="648.1" width="6.6" height="6.6"/><rect x="359.0" y="648.1" width="6.6" height="6.6"/><rect x="359.4" y="648.1" width="6.6" height="6.6"/><rect x="359.7" y="648.1" width="6.6" height="6.6"/><rect x="360.1" y="648.1" width="6.6" height="6.6"/><rect x="360.4" y="648.1" width="6.6" height="6.6"/><rect x="360.8" y="648.1" width="6.6" height="6.6"/><rect x="361.1" y="648.1" width="6.6" height="6.6"/><rect x="361.5" y="648.1" width="6.6" height="6.6"/><rect x="361.8" y="648.1" width="6.6" height="6.6"/><rect x="362.2" y="648.1" width="6.6" height="6.6"/><rect x="362.5" y="648.1" width="6.6" height="6.6"/><rect x="362.9" y="648.1" width="6.6" height="6.6"/><rect x="363.2" y="648.1" width="6.6" height="6.6"/><rect x="363.6" y="648.1" width="6.6" height="6.6"/><rect x="363.9" y="648.1" width="6.6" height="6.6"/><rect x="364.3" y="648.1" width="6.6" height="6.6"/><rect x="364.6" y="648.1" width="6.6" height="6.6"/><rect x="365.0" y="648.1" width="6.6" height="6.6"/><rect x="365.3" y="648.1" width="6.6" height="6.6"/><rect x="365.7" y="648.1" width="6.6" height="6.6"/><rect x="366.0" y="648.1" width="6.6" height="6.6"/><rect x="366.4" y="648.1" width="6.6" height="6.6"/><rect x="366.7" y="648.1" width="6.6" height="6.6"/><rect x="367.1" y="648.1" width="6.6" height="6.6"/><rect x="367.4" y="648.1" width="6.6" height="6.6"/><rect x="367.8" y="648.1" width="6.6" height="6.6"/><rect x="368.1" y="648.1" width="6.6" height="6.6"/><rect x="368.5" y="648.1" width="6.6" height="6.6"/><rect x="368.8" y="648.1" width="6.6" height="6.6"/><rect x="369.2" y="648.1" width="6.6" height="6.6"/><rect x="369.5" y="648.1" width="6.6" height="6.6"/><rect x="369.9" y="648.1" width="6.6" height="6.6"/><rect x="370.2" y="648.1" width="6.6" height="6.6"/><rect x="370.6" y="648.1" width="6.6" height="6.6"/><rect x="370.9" y="648.1" width="6.6" height="6.6"/><rect x="371.3" y="648.1" width="6.6" height="6.6"/><rect x="371.6" y="648.1" width="6.6" height="6.6"/><rect x="372.0" y="648.1" width="6.6" height="6.6"/><rect x="372.3" y="648.1" width="6.6" height="6.6"/><rect x="372.7" y="648.1" width="6.6" height="6.6"/><rect x="373.0" y="648.1" width="6.6" height="6.6"/><rect x="373.4" y="648.1" width="6.6" height="6.6"/><rect x="373.7" y="648.1" width="6.6" height="6.6"/><rect x="374.1" y="648.1" width="6.6" height="6.6"/><rect x="374.4" y="648.1" width="6.6" height="6.6"/><rect x="374.8" y="648.1" width="6.6" height="6.6"/><rect x="375.1" y="648.1" width="6.6" height="6.6"/><rect x="375.5" y="648.1" width="6.6" height="6.6"/><rect x="375.8" y="648.1" width="6.6" height="6.6"/><rect x="376.2" y="648.1" width="6.6" height="6.6"/><rect x="376.5" y="648.1" width="6.6" height="6.6"/><rect x="376.9" y="648.1" width="6.6" height="6.6"/><rect x="377.2" y="648.1" width="6.6" height="6.6"/><rect x="377.6" y="648.1" width="6.6" height="6.6"/><rect x="377.9" y="648.1" width="6.6" height="6.6"/><rect x="378.3" y="648.1" width="6.6" height="6.6"/><rect x="378.6" y="648.1" width="6.6" height="6.6"/><rect x="379.0" y="648.1" width="6.6" height="6.6"/><rect x="379.3" y="648.1" width="6.6" height="6.6"/><rect x="379.7" y="648.1" width="6.6" height="6.6"/><rect x="380.0" y="648.1" width="6.6" height="6.6"/><rect x="380.4" y="648.1" width="6.6" height="6.6"/><rect x="380.7" y="648.1" width="6.6" height="6.6"/><rect x="381.1" y="648.1" width="6.6" height="6.6"/><rect x="381.4" y="648.1" width="6.6" height="6.6"/><rect x="381.8" y="648.1" width="6.6" height="6.6"/><rect x="382.1" y="648.1" width="6.6" height="6.6"/><rect x="382.5" y="648.1" width="6.6" height="6.6"/><rect x="382.8" y="648.1" width="6.6" height="6.6"/><rect x="383.2" y="648.1" width="6.6" height="6.6"/><rect x="383.5" y="648.1" width="6.6" height="6.6"/><rect x="383.9" y="648.1" width="6.6" height="6.6"/><rect x="384.2" y="648.1" width="6.6" height="6.6"/><rect x="384.6" y="648.1" width="6.6" height="6.6"/><rect x="384.9" y="648.1" width="6.6" height="6.6"/><rect x="385.3" y="648.1" width="6.6" height="6.6"/><rect x="385.6" y="648.1" width="6.6" height="6.6"/><rect x="386.0" y="648.1" width="6.6" height="6.6"/><rect x="386.3" y="648.1" width="6.6" height="6.6"/><rect x="386.7" y="648.1" width="6.6" height="6.6"/><rect x="387.0" y="648.1" width="6.6" height="6.6"/><rect x="387.4" y="648.1" width="6.6" height="6.6"/><rect x="387.7" y="648.1" width="6.6" height="6.6"/><rect x="388.1" y="648.1" width="6.6" height="6.6"/><rect x="388.4" y="648.1" width="6.6" height="6.6"/><rect x="388.8" y="648.1" width="6.6" height="6.6"/><rect x="389.1" y="648.1" width="6.6" height="6.6"/><rect x="389.5" y="648.1" width="6.6" height="6.6"/><rect x="389.8" y="648.1" width="6.6" height="6.6"/><rect x="390.2" y="648.1" width="6.6" height="6.6"/><rect x="390.5" y="648.1" width="6.6" height="6.6"/><rect x="390.9" y="648.1" width="6.6" height="6.6"/><rect x="391.2" y="648.1" width="6.6" height="6.6"/><rect x="391.6" y="648.1" width="6.6" height="6.6"/><rect x="391.9" y="648.1" width="6.6" height="6.6"/><rect x="392.3" y="648.1" width="6.6" height="6.6"/><rect x="392.6" y="648.1" width="6.6" height="6.6"/><rect x="393.0" y="648.1" width="6.6" height="6.6"/><rect x="393.3" y="648.1" width="6.6" height="6.6"/><rect x="393.7" y="648.1" width="6.6" height="6.6"/><rect x="394.0" y="648.1" width="6.6" height="6.6"/><rect x="394.4" y="648.1" width="6.6" height="6.6"/><rect x="394.7" y="648.1" width="6.6" height="6.6"/><rect x="395.1" y="648.1" width="6.6" height="6.6"/><rect x="395.4" y="648.1" width="6.6" height="6.6"/><rect x="395.8" y="648.1" width="6.6" height="6.6"/><rect x="396.1" y="648.1" width="6.6" height="6.6"/><rect x="396.5" y="648.1" width="6.6" height="6.6"/><rect x="396.8" y="648.1" width="6.6" height="6.6"/><rect x="397.2" y="648.1" width="6.6" height="6.6"/><rect x="397.5" y="648.1" width="6.6" height="6.6"/><rect x="397.9" y="648.1" width="6.6" height="6.6"/><rect x="398.2" y="648.1" width="6.6" height="6.6"/><rect x="398.6" y="648.1" width="6.6" height="6.6"/><rect x="398.9" y="648.1" width="6.6" height="6.6"/><rect x="399.3" y="648.1" width="6.6" height="6.6"/><rect x="399.6" y="648.1" width="6.6" height="6.6"/><rect x="400.0" y="648.1" width="6.6" height="6.6"/><rect x="400.3" y="648.1" width="6.6" height="6.6"/><rect x="400.7" y="648.1" width="6.6" height="6.6"/><rect x="401.0" y="648.1" width="6.6" height="6.6"/><rect x="401.4" y="648.1" width="6.6" height="6.6"/><rect x="401.7" y="648.1" width="6.6" height="6.6"/><rect x="402.1" y="648.1" width="6.6" height="6.6"/><rect x="402.4" y="648.1" width="6.6" height="6.6"/><rect x="402.8" y="648.1" width="6.6" height="6.6"/><rect x="403.1" y="648.1" width="6.6" height="6.6"/><rect x="403.5" y="648.1" width="6.6" height="6.6"/><rect x="403.8" y="648.1" width="6.6" height="6.6"/><rect x="404.2" y="648.1" width="6.6" height="6.6"/><rect x="404.5" y="648.1" width="6.6" height="6.6"/><rect x="404.9" y="648.1" width="6.6" height="6.6"/><rect x="405.2" y="648.1" width="6.6" height="6.6"/><rect x="405.6" y="648.1" width="6.6" height="6.6"/><rect x="405.9" y="648.0" width="6.6" height="6.6"/><rect x="406.3" y="648.0" width="6.6" height="6.6"/><rect x="406.6" y="648.0" width="6.6" height="6.6"/><rect x="407.0" y="648.0" width="6.6" height="6.6"/><rect x="407.3" y="648.0" width="6.6" height="6.6"/><rect x="407.7" y="648.0" width="6.6" height="6.6"/><rect x="408.0" y="648.0" width="6.6" height="6.6"/><rect x="408.4" y="648.0" width="6.6" height="6.6"/><rect x="408.7" y="648.0" width="6.6" height="6.6"/><rect x="409.1" y="648.0" width="6.6" height="6.6"/><rect x="409.4" y="648.0" width="6.6" height="6.6"/><rect x="409.8" y="648.0" width="6.6" height="6.6"/><rect x="410.1" y="648.0" width="6.6" height="6.6"/><rect x="410.5" y="648.0" width="6.6" height="6.6"/><rect x="410.8" y="648.0" width="6.6" height="6.6"/><rect x="411.2" y="648.0" width="6.6" height="6.6"/><rect x="411.5" y="648.0" width="6.6" height="6.6"/><rect x="411.9" y="648.0" width="6.6" height="6.6"/><rect x="412.2" y="648.0" width="6.6" height="6.6"/><rect x="412.6" y="648.0" width="6.6" height="6.6"/><rect x="412.9" y="648.0" width="6.6" height="6.6"/><rect x="413.3" y="648.0" width="6.6" height="6.6"/><rect x="413.6" y="648.0" width="6.6" height="6.6"/><rect x="414.0" y="648.0" width="6.6" height="6.6"/><rect x="414.3" y="648.0" width="6.6" height="6.6"/><rect x="414.7" y="648.0" width="6.6" height="6.6"/><rect x="415.0" y="648.0" width="6.6" height="6.6"/><rect x="415.4" y="648.0" width="6.6" height="6.6"/><rect x="415.7" y="648.0" width="6.6" height="6.6"/><rect x="416.1" y="648.0" width="6.6" height="6.6"/><rect x="416.4" y="648.0" width="6.6" height="6.6"/><rect x="416.8" y="648.0" width="6.6" height="6.6"/><rect x="417.1" y="648.0" width="6.6" height="6.6"/><rect x="417.5" y="648.0" width="6.6" height="6.6"/><rect x="417.8" y="648.0" width="6.6" height="6.6"/><rect x="418.2" y="648.0" width="6.6" height="6.6"/><rect x="418.5" y="648.0" width="6.6" height="6.6"/><rect x="418.9" y="648.0" width="6.6" height="6.6"/><rect x="419.2" y="648.0" width="6.6" height="6.6"/><rect x="419.6" y="648.0" width="6.6" height="6.6"/><rect x="419.9" y="648.0" width="6.6" height="6.6"/><rect x="420.3" y="648.0" width="6.6" height="6.6"/><rect x="420.6" y="648.0" width="6.6" height="6.6"/><rect x="421.0" y="648.0" width="6.6" height="6.6"/><rect x="421.3" y="648.0" width="6.6" height="6.6"/><rect x="421.7" y="648.0" width="6.6" height="6.6"/><rect x="422.0" y="648.0" width="6.6" height="6.6"/><rect x="422.4" y="648.0" width="6.6" height="6.6"/><rect x="422.7" y="648.0" width="6.6" height="6.6"/><rect x="423.1" y="648.0" width="6.6" height="6.6"/><rect x="423.4" y="648.0" width="6.6" height="6.6"/><rect x="423.8" y="648.0" width="6.6" height="6.6"/><rect x="424.1" y="648.0" width="6.6" height="6.6"/><rect x="424.5" y="648.0" width="6.6" height="6.6"/><rect x="424.8" y="648.0" width="6.6" height="6.6"/><rect x="425.2" y="648.0" width="6.6" height="6.6"/><rect x="425.5" y="648.0" width="6.6" height="6.6"/><rect x="425.9" y="648.0" width="6.6" height="6.6"/><rect x="426.2" y="648.0" width="6.6" height="6.6"/><rect x="426.6" y="648.0" width="6.6" height="6.6"/><rect x="426.9" y="648.0" width="6.6" height="6.6"/><rect x="427.3" y="648.0" width="6.6" height="6.6"/><rect x="427.6" y="648.0" width="6.6" height="6.6"/><rect x="428.0" y="648.0" width="6.6" height="6.6"/><rect x="428.3" y="648.0" width="6.6" height="6.6"/><rect x="428.7" y="648.0" width="6.6" height="6.6"/><rect x="429.0" y="648.0" width="6.6" height="6.6"/><rect x="429.4" y="648.0" width="6.6" height="6.6"/><rect x="429.7" y="648.0" width="6.6" height="6.6"/><rect x="430.1" y="648.0" width="6.6" height="6.6"/><rect x="430.4" y="648.0" width="6.6" height="6.6"/><rect x="430.8" y="648.0" width="6.6" height="6.6"/><rect x="431.1" y="648.0" width="6.6" height="6.6"/><rect x="431.5" y="648.0" width="6.6" height="6.6"/><rect x="431.8" y="648.0" width="6.6" height="6.6"/><rect x="432.2" y="648.0" width="6.6" height="6.6"/><rect x="432.5" y="648.0" width="6.6" height="6.6"/><rect x="432.9" y="648.0" width="6.6" height="6.6"/><rect x="433.2" y="648.0" width="6.6" height="6.6"/><rect x="433.6" y="648.0" width="6.6" height="6.6"/><rect x="433.9" y="648.0" width="6.6" height="6.6"/><rect x="434.3" y="648.0" width="6.6" height="6.6"/><rect x="434.6" y="648.0" width="6.6" height="6.6"/><rect x="435.0" y="648.0" width="6.6" height="6.6"/><rect x="435.3" y="648.0" width="6.6" height="6.6"/><rect x="435.7" y="648.0" width="6.6" height="6.6"/><rect x="436.0" y="648.0" width="6.6" height="6.6"/><rect x="436.4" y="648.0" width="6.6" height="6.6"/><rect x="436.7" y="648.0" width="6.6" height="6.6"/><rect x="437.1" y="648.0" width="6.6" height="6.6"/><rect x="437.4" y="648.0" width="6.6" height="6.6"/><rect x="437.8" y="648.0" width="6.6" height="6.6"/><rect x="438.1" y="648.0" width="6.6" height="6.6"/><rect x="438.5" y="648.0" width="6.6" height="6.6"/><rect x="438.8" y="648.0" width="6.6" height="6.6"/><rect x="439.2" y="648.0" width="6.6" height="6.6"/><rect x="439.5" y="648.0" width="6.6" height="6.6"/><rect x="439.9" y="648.0" width="6.6" height="6.6"/><rect x="440.2" y="648.0" width="6.6" height="6.6"/><rect x="440.6" y="648.0" width="6.6" height="6.6"/><rect x="440.9" y="648.0" width="6.6" height="6.6"/><rect x="441.3" y="648.0" width="6.6" height="6.6"/><rect x="441.6" y="648.0" width="6.6" height="6.6"/><rect x="442.0" y="648.0" width="6.6" height="6.6"/><rect x="442.3" y="648.0" width="6.6" height="6.6"/><rect x="442.7" y="648.0" width="6.6" height="6.6"/><rect x="443.0" y="648.0" width="6.6" height="6.6"/><rect x="443.4" y="648.0" width="6.6" height="6.6"/><rect x="443.7" y="648.0" width="6.6" height="6.6"/><rect x="444.1" y="648.0" width="6.6" height="6.6"/><rect x="444.4" y="648.0" width="6.6" height="6.6"/><rect x="444.8" y="648.0" width="6.6" height="6.6"/><rect x="445.1" y="648.0" width="6.6" height="6.6"/><rect x="445.5" y="648.0" width="6.6" height="6.6"/><rect x="445.8" y="648.0" width="6.6" height="6.6"/><rect x="446.2" y="648.0" width="6.6" height="6.6"/><rect x="446.5" y="648.0" width="6.6" height="6.6"/><rect x="446.9" y="648.0" width="6.6" height="6.6"/><rect x="447.2" y="648.0" width="6.6" height="6.6"/><rect x="447.6" y="648.0" width="6.6" height="6.6"/><rect x="447.9" y="648.0" width="6.6" height="6.6"/><rect x="448.3" y="648.0" width="6.6" height="6.6"/><rect x="448.6" y="648.0" width="6.6" height="6.6"/><rect x="449.0" y="648.0" width="6.6" height="6.6"/><rect x="449.3" y="648.0" width="6.6" height="6.6"/><rect x="449.7" y="648.0" width="6.6" height="6.6"/><rect x="450.0" y="648.0" width="6.6" height="6.6"/><rect x="450.4" y="648.0" width="6.6" height="6.6"/><rect x="450.7" y="648.0" width="6.6" height="6.6"/><rect x="451.1" y="648.0" width="6.6" height="6.6"/><rect x="451.4" y="648.0" width="6.6" height="6.6"/><rect x="451.8" y="648.0" width="6.6" height="6.6"/><rect x="452.1" y="648.0" width="6.6" height="6.6"/><rect x="452.5" y="648.0" width="6.6" height="6.6"/><rect x="452.8" y="648.0" width="6.6" height="6.6"/><rect x="453.2" y="648.0" width="6.6" height="6.6"/><rect x="453.5" y="648.0" width="6.6" height="6.6"/><rect x="453.9" y="648.0" width="6.6" height="6.6"/><rect x="454.2" y="648.0" width="6.6" height="6.6"/><rect x="454.6" y="648.0" width="6.6" height="6.6"/><rect x="454.9" y="648.0" width="6.6" height="6.6"/><rect x="455.3" y="648.0" width="6.6" height="6.6"/><rect x="455.6" y="648.0" width="6.6" height="6.6"/><rect x="456.0" y="648.0" width="6.6" height="6.6"/><rect x="456.3" y="648.0" width="6.6" height="6.6"/><rect x="456.7" y="648.0" width="6.6" height="6.6"/><rect x="457.0" y="648.0" width="6.6" height="6.6"/><rect x="457.4" y="648.0" width="6.6" height="6.6"/><rect x="457.7" y="648.0" width="6.6" height="6.6"/><rect x="458.1" y="648.0" width="6.6" height="6.6"/><rect x="458.4" y="648.0" width="6.6" height="6.6"/><rect x="458.8" y="648.0" width="6.6" height="6.6"/><rect x="459.1" y="648.0" width="6.6" height="6.6"/><rect x="459.5" y="648.0" width="6.6" height="6.6"/><rect x="459.8" y="648.0" width="6.6" height="6.6"/><rect x="460.2" y="648.0" width="6.6" height="6.6"/><rect x="460.5" y="648.0" width="6.6" height="6.6"/><rect x="460.9" y="648.0" width="6.6" height="6.6"/><rect x="461.2" y="648.0" width="6.6" height="6.6"/><rect x="461.6" y="648.0" width="6.6" height="6.6"/><rect x="461.9" y="648.0" width="6.6" height="6.6"/><rect x="462.3" y="648.0" width="6.6" height="6.6"/><rect x="462.6" y="648.0" width="6.6" height="6.6"/><rect x="463.0" y="648.0" width="6.6" height="6.6"/><rect x="463.3" y="648.0" width="6.6" height="6.6"/><rect x="463.7" y="648.0" width="6.6" height="6.6"/><rect x="464.0" y="648.0" width="6.6" height="6.6"/><rect x="464.4" y="648.0" width="6.6" height="6.6"/><rect x="464.7" y="648.0" width="6.6" height="6.6"/><rect x="465.1" y="648.0" width="6.6" height="6.6"/><rect x="465.4" y="648.0" width="6.6" height="6.6"/><rect x="465.8" y="648.0" width="6.6" height="6.6"/><rect x="466.1" y="648.0" width="6.6" height="6.6"/><rect x="466.5" y="648.0" width="6.6" height="6.6"/><rect x="466.8" y="648.0" width="6.6" height="6.6"/><rect x="467.2" y="648.0" width="6.6" height="6.6"/><rect x="467.5" y="648.0" width="6.6" height="6.6"/><rect x="467.9" y="648.0" width="6.6" height="6.6"/><rect x="468.2" y="648.0" width="6.6" height="6.6"/><rect x="468.6" y="648.0" width="6.6" height="6.6"/><rect x="468.9" y="648.0" width="6.6" height="6.6"/><rect x="469.3" y="648.0" width="6.6" height="6.6"/><rect x="469.6" y="648.0" width="6.6" height="6.6"/><rect x="470.0" y="648.0" width="6.6" height="6.6"/><rect x="470.3" y="648.0" width="6.6" height="6.6"/><rect x="470.7" y="648.0" width="6.6" height="6.6"/><rect x="471.0" y="648.0" width="6.6" height="6.6"/></g><g fill="#FF0000"><circle cx="114.0" cy="857.4" r="4.3"/><circle cx="116.0" cy="857.5" r="4.3"/><circle cx="118.2" cy="856.8" r="4.3"/><circle cx="119.0" cy="858.0" r="4.3"/><circle cx="121.2" cy="857.0" r="4.3"/><circle cx="124.2" cy="857.3" r="4.3"/><circle cx="125.7" cy="857.3" r="4.3"/><circle cx="127.2" cy="856.6" r="4.3"/><circle cx="129.0" cy="857.7" r="4.3"/><circle cx="130.6" cy="857.4" r="4.3"/><circle cx="132.7" cy="856.2" r="4.3"/><circle cx="134.6" cy="856.9" r="4.3"/><circle cx="135.7" cy="855.9" r="4.3"/><circle cx="138.4" cy="856.4" r="4.3"/><circle cx="140.0" cy="856.8" r="4.3"/><circle cx="141.7" cy="856.6" r="4.3"/><circle cx="143.0" cy="856.2" r="4.3"/><circle cx="144.9" cy="856.0" r="4.3"/><circle cx="147.4" cy="854.3" r="4.3"/><circle cx="148.0" cy="854.1" r="4.3"/><circle cx="151.1" cy="854.0" r="4.3"/><circle cx="152.4" cy="853.2" r="4.3"/><circle cx="154.0" cy="852.6" r="4.3"/><circle cx="155.6" cy="852.2" r="4.3"/><circle cx="157.7" cy="851.6" r="4.3"/><circle cx="159.7" cy="850.4" r="4.3"/><circle cx="161.8" cy="849.0" r="4.3"/><circle cx="163.3" cy="846.0" r="4.3"/><circle cx="165.4" cy="845.5" r="4.3"/><circle cx="167.2" cy="842.7" r="4.3"/><circle cx="168.7" cy="839.3" r="4.3"/><circle cx="170.7" cy="836.9" r="4.3"/><circle cx="171.7" cy="833.0" r="4.3"/><circle cx="174.4" cy="831.1" r="4.3"/><circle cx="174.9" cy="827.2" r="4.3"/><circle cx="177.3" cy="822.0" r="4.3"/><circle cx="178.9" cy="817.2" r="4.3"/><circle cx="181.6" cy="807.9" r="4.3"/><circle cx="183.0" cy="800.2" r="4.3"/><circle cx="184.9" cy="792.8" r="4.3"/><circle cx="187.0" cy="784.7" r="4.3"/><circle cx="188.2" cy="776.3" r="4.3"/><circle cx="189.7" cy="767.0" r="4.3"/><circle cx="192.0" cy="758.4" r="4.3"/><circle cx="193.1" cy="748.7" r="4.3"/><circle cx="195.6" cy="736.8" r="4.3"/><circle cx="196.5" cy="726.1" r="4.3"/><circle cx="198.7" cy="713.8" r="4.3"/><circle cx="201.4" cy="700.7" r="4.3"/><circle cx="202.5" cy="692.5" r="4.3"/><circle cx="204.6" cy="684.0" r="4.3"/><circle cx="206.3" cy="674.7" r="4.3"/><circle cx="208.7" cy="666.4" r="4.3"/><circle cx="209.7" cy="660.2" r="4.3"/><circle cx="211.2" cy="653.3" r="4.3"/><circle cx="214.2" cy="647.3" r="4.3"/><circle cx="215.3" cy="640.7" r="4.3"/><circle cx="216.9" cy="636.1" r="4.3"/><circle cx="218.0" cy="630.8" r="4.3"/><circle cx="220.8" cy="624.7" r="4.3"/><circle cx="222.6" cy="620.3" r="4.3"/><circle cx="224.5" cy="615.4" r="4.3"/><circle cx="226.3" cy="611.3" r="4.3"/><circle cx="227.0" cy="605.4" r="4.3"/><circle cx="229.9" cy="601.3" r="4.3"/><circle cx="231.0" cy="595.3" r="4.3"/><circle cx="233.3" cy="591.2" r="4.3"/><circle cx="234.8" cy="588.1" r="4.3"/><circle cx="236.6" cy="586.0" r="4.3"/><circle cx="238.3" cy="583.4" r="4.3"/><circle cx="240.8" cy="580.8" r="4.3"/><circle cx="242.3" cy="580.1" r="4.3"/><circle cx="243.7" cy="577.6" r="4.3"/><circle cx="246.3" cy="576.1" r="4.3"/><circle cx="247.1" cy="575.1" r="4.3"/><circle cx="249.7" cy="573.4" r="4.3"/><circle cx="250.9" cy="572.7" r="4.3"/><circle cx="253.5" cy="571.9" r="4.3"/><circle cx="255.4" cy="570.6" r="4.3"/><circle cx="256.3" cy="570.6" r="4.3"/><circle cx="259.0" cy="569.5" r="4.3"/><circle cx="259.8" cy="568.2" r="4.3"/><circle cx="262.0" cy="567.5" r="4.3"/><circle cx="264.3" cy="567.8" r="4.3"/><circle cx="265.1" cy="566.3" r="4.3"/><circle cx="267.9" cy="566.3" r="4.3"/><circle cx="269.7" cy="565.3" r="4.3"/><circle cx="270.4" cy="564.9" r="4.3"/><circle cx="273.3" cy="564.6" r="4.3"/><circle cx="274.4" cy="564.6" r="4.3"/><circle cx="276.3" cy="564.5" r="4.3"/><circle cx="278.9" cy="564.2" r="4.3"/><circle cx="279.2" cy="565.6" r="4.3"/><circle cx="282.4" cy="565.9" r="4.3"/><circle cx="283.5" cy="566.2" r="4.3"/><circle cx="286.1" cy="565.5" r="4.3"/><circle cx="287.6" cy="567.2" r="4.3"/><circle cx="289.3" cy="567.6" r="4.3"/><circle cx="290.5" cy="568.3" r="4.3"/><circle cx="292.2" cy="569.1" r="4.3"/><circle cx="294.5" cy="570.8" r="4.3"/><circle cx="296.7" cy="572.0" r="4.3"/><circle cx="298.6" cy="574.8" r="4.3"/><circle cx="300.5" cy="577.0" r="4.3"/><circle cx="302.2" cy="578.6" r="4.3"/><circle cx="302.6" cy="581.2" r="4.3"/><circle cx="304.7" cy="582.8" r="4.3"/><circle cx="307.3" cy="585.6" r="4.3"/><circle cx="308.7" cy="588.7" r="4.3"/><circle cx="310.8" cy="590.2" r="4.3"/><circle cx="312.0" cy="593.4" r="4.3"/><circle cx="314.2" cy="595.5" r="4.3"/><circle cx="315.8" cy="596.8" r="4.3"/><circle cx="317.9" cy="600.1" r="4.3"/><circle cx="319.1" cy="602.3" r="4.3"/><circle cx="322.1" cy="604.5" r="4.3"/><circle cx="323.7" cy="605.3" r="4.3"/><circle cx="325.2" cy="608.6" r="4.3"/><circle cx="326.1" cy="609.5" r="4.3"/><circle cx="328.2" cy="611.4" r="4.3"/><circle cx="330.3" cy="612.7" r="4.3"/><circle cx="332.6" cy="613.3" r="4.3"/><circle cx="333.3" cy="614.5" r="4.3"/><circle cx="335.2" cy="615.4" r="4.3"/><circle cx="338.4" cy="617.5" r="4.3"/><circle cx="338.7" cy="617.7" r="4.3"/><circle cx="340.9" cy="618.0" r="4.3"/><circle cx="342.8" cy="619.3" r="4.3"/><circle cx="344.9" cy="619.1" r="4.3"/><circle cx="346.1" cy="619.0" r="4.3"/><circle cx="347.8" cy="619.4" r="4.3"/><circle cx="350.5" cy="619.1" r="4.3"/><circle cx="351.3" cy="618.8" r="4.3"/><circle cx="353.6" cy="619.5" r="4.3"/><circle cx="356.1" cy="619.1" r="4.3"/><circle cx="357.9" cy="619.5" r="4.3"/><circle cx="359.1" cy="619.1" r="4.3"/><circle cx="361.0" cy="619.6" r="4.3"/><circle cx="362.7" cy="619.6" r="4.3"/><circle cx="364.5" cy="618.9" r="4.3"/><circle cx="366.5" cy="619.6" r="4.3"/><circle cx="367.5" cy="619.2" r="4.3"/><circle cx="369.9" cy="619.9" r="4.3"/><circle cx="372.5" cy="619.1" r="4.3"/><circle cx="374.2" cy="619.8" r="4.3"/><circle cx="375.0" cy="619.3" r="4.3"/><circle cx="376.6" cy="619.8" r="4.3"/><circle cx="379.3" cy="620.0" r="4.3"/><circle cx="381.3" cy="619.6" r="4.3"/><circle cx="383.0" cy="619.5" r="4.3"/><circle cx="383.8" cy="619.5" r="4.3"/><circle cx="385.4" cy="618.8" r="4.3"/><circle cx="388.4" cy="618.6" r="4.3"/><circle cx="389.1" cy="618.7" r="4.3"/><circle cx="392.2" cy="618.8" r="4.3"/><circle cx="392.6" cy="619.9" r="4.3"/><circle cx="394.6" cy="619.9" r="4.3"/><circle cx="397.3" cy="619.9" r="4.3"/><circle cx="399.5" cy="619.5" r="4.3"/><circle cx="401.1" cy="618.6" r="4.3"/><circle cx="402.8" cy="619.4" r="4.3"/><circle cx="404.5" cy="618.7" r="4.3"/><circle cx="406.4" cy="620.0" r="4.3"/><circle cx="407.1" cy="619.1" r="4.3"/><circle cx="409.7" cy="619.9" r="4.3"/><circle cx="411.0" cy="618.8" r="4.3"/><circle cx="412.8" cy="619.5" r="4.3"/><circle cx="415.4" cy="619.2" r="4.3"/><circle cx="416.6" cy="619.2" r="4.3"/><circle cx="418.4" cy="619.2" r="4.3"/><circle cx="419.7" cy="619.3" r="4.3"/><circle cx="423.0" cy="619.2" r="4.3"/><circle cx="424.4" cy="618.8" r="4.3"/><circle cx="426.1" cy="619.7" r="4.3"/><circle cx="427.9" cy="619.4" r="4.3"/><circle cx="429.4" cy="619.6" r="4.3"/><circle cx="431.8" cy="618.8" r="4.3"/><circle cx="432.4" cy="619.7" r="4.3"/><circle cx="435.5" cy="619.4" r="4.3"/><circle cx="436.5" cy="619.7" r="4.3"/><circle cx="437.9" cy="619.0" r="4.3"/><circle cx="439.7" cy="619.5" r="4.3"/><circle cx="441.7" cy="618.9" r="4.3"/><circle cx="444.1" cy="620.0" r="4.3"/><circle cx="445.3" cy="619.6" r="4.3"/><circle cx="447.3" cy="619.9" r="4.3"/><circle cx="449.3" cy="618.9" r="4.3"/><circle cx="450.5" cy="618.6" r="4.3"/><circle cx="452.8" cy="619.1" r="4.3"/><circle cx="454.1" cy="619.1" r="4.3"/><circle cx="456.1" cy="619.8" r="4.3"/><circle cx="457.6" cy="620.1" r="4.3"/><circle cx="460.0" cy="619.5" r="4.3"/><circle cx="461.7" cy="619.8" r="4.3"/><circle cx="464.1" cy="619.4" r="4.3"/><circle cx="465.4" cy="619.7" r="4.3"/><circle cx="467.8" cy="619.1" r="4.3"/><circle cx="469.4" cy="620.0" r="4.3"/><circle cx="470.7" cy="618.9" r="4.3"/><circle cx="472.2" cy="619.6" r="4.3"/><circle cx="474.7" cy="620.0" r="4.3"/></g></g><rect x="104.7" y="491" width="369.8" height="369.5" fill="none" stroke="#222" stroke-width="1.4"/><path d="M104.70,860.5v-6M104.70,491v6M166.33,860.5v-3M166.33,491v3M227.97,860.5v-6M227.97,491v6M289.60,860.5v-3M289.60,491v3M351.23,860.5v-6M351.23,491v6M412.87,860.5v-3M412.87,491v3M474.50,860.5v-6M474.50,491v6M104.7,860.50h6M474.5,860.50h-6M104.7,809.12h3M474.5,809.12h-3M104.7,757.75h6M474.5,757.75h-6M104.7,706.38h3M474.5,706.38h-3M104.7,655.00h6M474.5,655.00h-6M104.7,603.62h3M474.5,603.62h-3M104.7,552.25h6M474.5,552.25h-6M104.7,500.88h3M474.5,500.88h-3" stroke="#222" stroke-width="1.4" fill="none"/><text x="97" y="871.8" font-size="36" text-anchor="end" fill="#000" stroke="#000" stroke-width="0.4" >0.00</text><text x="97" y="769.05" font-size="36" text-anchor="end" fill="#000" stroke="#000" stroke-width="0.4" >0.25</text><text x="97" y="666.3" font-size="36" text-anchor="end" fill="#000" stroke="#000" stroke-width="0.4" >0.50</text><text x="97" y="563.55" font-size="36" text-anchor="end" fill="#000" stroke="#000" stroke-width="0.4" >0.75</text><text x="104.7" y="895.5" font-size="36" text-anchor="middle" fill="#000" stroke="#000" stroke-width="0.4" >0</text><text x="227.96666666666667" y="895.5" font-size="36" text-anchor="middle" fill="#000" stroke="#000" stroke-width="0.4" >1</text><text x="351.23333333333335" y="895.5" font-size="36" text-anchor="middle" fill="#000" stroke="#000" stroke-width="0.4" >2</text><text x="474.5" y="895.5" font-size="36" text-anchor="middle" fill="#000" stroke="#000" stroke-width="0.4" >3</text><text x="290" y="931.5" font-size="36" text-anchor="middle" fill="#000" stroke="#000" stroke-width="0.4" ><tspan font-style="italic">T</tspan> (K)</text><text transform="translate(25,677) rotate(-90)" font-size="36" text-anchor="middle" stroke="#000" stroke-width="0.4"><tspan font-style="italic">R</tspan> (&#937;)</text><text x="393" y="606.6" font-size="26" text-anchor="start" fill="#FF0000" stroke="#FF0000" stroke-width="0.4" >1.2 V</text><text x="391.8" y="645" font-size="26" text-anchor="start" fill="#000" stroke="#000" stroke-width="0.4" >0 V (I)</text><text x="118" y="521.1" font-size="25.5" text-anchor="start" fill="#000" stroke="#000" stroke-width="0.4" >TaSe<tspan font-size="16" dy="8.5" dx="0.5">2</tspan><tspan dy="-8.5" dx="1.5"> 15 nm</tspan></text><text x="118" y="555.6" font-size="25.5" text-anchor="start" fill="#000" stroke="#000" stroke-width="0.4" >device B</text><text x="502" y="479" font-size="44" stroke="#000" stroke-width="0.4">d</text><clipPath id="cd"><rect x="603.7" y="491.6" width="370.79999999999995" height="369.79999999999995"/></clipPath><g clip-path="url(#cd)"><path d="M650.0,853.0 L653.0,853.0 L657.0,853.0 L661.6,853.0 L666.9,853.0 L672.5,853.0 L678.3,853.0 L684.2,853.0 L689.8,853.0 L695.2,853.0 L700.0,853.0 L704.5,853.0 L709.0,853.0 L713.4,853.0 L717.7,853.0 L721.9,853.0 L725.9,853.0 L729.8,853.0 L733.4,853.0 L736.9,853.0 L740.0,853.0 L742.8,853.0 L745.3,853.1 L747.5,853.2 L749.4,853.3 L751.2,853.4 L753.0,853.5 L754.6,853.5 L756.3,853.6 L758.1,853.5 L760.0,853.5 L762.0,853.4 L764.2,853.3 L766.3,853.1 L768.5,852.9 L770.7,852.7 L772.8,852.5 L774.8,852.2 L776.7,852.0 L778.4,851.7 L780.0,851.5 L781.4,851.3 L782.6,851.1 L783.6,851.0 L784.6,850.9 L785.4,850.7 L786.2,850.5 L786.9,850.3 L787.6,850.0 L788.2,849.5 L788.9,849.0 L789.5,848.4 L790.1,847.6 L790.6,846.8 L791.1,845.9 L791.6,845.0 L792.0,844.0 L792.4,842.9 L792.8,841.8 L793.2,840.6 L793.6,839.4 L794.0,838.1 L794.5,836.7 L794.9,835.1 L795.3,833.6 L795.7,831.9 L796.1,830.3 L796.5,828.7 L796.9,827.1 L797.2,825.5 L797.5,824.1 L797.8,822.7 L798.0,821.4 L798.2,820.1 L798.4,818.8 L798.6,817.6 L798.7,816.3 L798.9,815.1 L799.1,813.9 L799.2,812.8 L799.4,811.6 L799.6,810.5 L799.8,809.4 L800.0,808.4 L800.1,807.4 L800.3,806.5 L800.5,805.5 L800.7,804.5 L800.9,803.4 L801.1,802.3 L801.3,801.1 L801.5,799.8 L801.8,798.5 L802.0,797.2 L802.2,795.8 L802.5,794.3 L802.7,792.8 L803.0,791.3 L803.2,789.8 L803.4,788.3 L803.6,786.7 L803.8,785.1 L803.9,783.4 L804.0,781.7 L804.2,779.9 L804.3,778.2 L804.4,776.4 L804.5,774.6 L804.6,772.9 L804.7,771.2 L804.8,769.5 L804.9,767.9 L805.0,766.4 L805.1,765.0 L805.3,763.6 L805.4,762.2 L805.5,760.8 L805.6,759.3 L805.8,757.7 L805.9,756.0 L806.1,754.2 L806.3,752.2 L806.6,749.9 L806.8,747.5 L807.1,745.0 L807.4,742.5 L807.7,739.9 L807.9,737.5 L808.2,735.2 L808.4,733.1 L808.6,731.2 L808.7,729.6 L808.8,728.3 L808.9,727.1 L809.0,726.0 L809.0,725.1 L809.0,724.2 L809.1,723.2 L809.1,722.2 L809.2,721.0 L809.3,719.7 L809.4,718.2 L809.6,716.5 L809.7,714.8 L809.9,712.9 L810.0,711.0 L810.2,709.2 L810.4,707.4 L810.5,705.6 L810.7,704.0 L810.9,702.5 L811.1,701.2 L811.3,700.0 L811.5,699.0 L811.7,698.0 L811.9,697.0 L812.1,696.1 L812.3,695.2 L812.5,694.2 L812.6,693.1 L812.8,691.9 L813.0,690.7 L813.1,689.5 L813.2,688.4 L813.3,687.2 L813.5,686.0 L813.6,684.7 L813.7,683.1 L813.8,681.4 L814.0,679.4 L814.1,677.1 L814.3,674.4 L814.4,671.1 L814.6,667.6 L814.7,663.8 L814.9,659.9 L815.1,656.0 L815.3,652.1 L815.4,648.5 L815.6,645.1 L815.8,642.2 L816.0,639.7 L816.2,637.6 L816.3,635.7 L816.5,634.0 L816.7,632.5 L816.9,630.9 L817.1,629.4 L817.3,627.6 L817.6,625.7 L817.8,623.5 L818.1,621.0 L818.4,618.1 L818.7,615.1 L819.0,611.9 L819.4,608.7 L819.7,605.6 L820.1,602.5 L820.4,599.5 L820.7,596.9 L820.9,594.5 L821.1,592.5 L821.3,590.7 L821.4,589.1 L821.6,587.7 L821.7,586.3 L821.8,585.1 L821.9,583.9 L822.0,582.7 L822.1,581.4 L822.2,580.0 L822.3,578.5 L822.4,577.0 L822.5,575.5 L822.6,574.0 L822.7,572.5 L822.8,571.0 L822.9,569.6 L823.1,568.2 L823.2,566.8 L823.4,565.6 L823.6,564.4 L823.8,563.3 L824.1,562.2 L824.3,561.2 L824.6,560.3 L824.8,559.3 L825.1,558.4 L825.4,557.6 L825.7,556.8 L826.0,556.0 L826.3,555.3 L826.6,554.6 L826.9,553.9 L827.1,553.3 L827.4,552.7 L827.8,552.2 L828.1,551.6 L828.5,551.1 L828.9,550.7 L829.4,550.2 L829.9,549.7 L830.4,549.3 L831.0,548.8 L831.5,548.4 L832.2,548.0 L832.8,547.7 L833.6,547.4 L834.4,547.1 L835.2,546.9 L836.2,546.8 L837.2,546.8 L838.2,546.9 L839.3,547.0 L840.4,547.2 L841.7,547.5 L843.0,547.8 L844.4,548.0 L846.0,548.3 L847.8,548.5 L849.8,548.6 L851.7,548.7 L853.4,548.7 L855.1,548.7 L856.8,548.7 L858.8,548.7 L861.2,548.7 L864.2,548.7 L867.9,548.6 L872.5,548.6 L878.2,548.6 L885.5,548.6 L894.7,548.6 L905.2,548.6 L916.5,548.6 L928.2,548.6 L939.8,548.6 L950.7,548.6 L960.5,548.6 L968.7,548.6 L974.7,548.6" stroke="#333" stroke-width="0.6" fill="none"/><g fill="#000"><rect x="647.1" y="848.0" width="6.6" height="6.6"/><rect x="647.7" y="848.2" width="6.6" height="6.6"/><rect x="649.0" y="851.0" width="6.6" height="6.6"/><rect x="651.0" y="852.3" width="6.6" height="6.6"/><rect x="651.7" y="852.0" width="6.6" height="6.6"/><rect x="653.0" y="849.2" width="6.6" height="6.6"/><rect x="654.7" y="847.0" width="6.6" height="6.6"/><rect x="655.4" y="851.8" width="6.6" height="6.6"/><rect x="656.9" y="848.8" width="6.6" height="6.6"/><rect x="658.5" y="850.8" width="6.6" height="6.6"/><rect x="659.2" y="848.6" width="6.6" height="6.6"/><rect x="660.9" y="849.6" width="6.6" height="6.6"/><rect x="662.0" y="850.2" width="6.6" height="6.6"/><rect x="664.1" y="849.0" width="6.6" height="6.6"/><rect x="664.9" y="847.3" width="6.6" height="6.6"/><rect x="666.0" y="850.8" width="6.6" height="6.6"/><rect x="667.1" y="852.2" width="6.6" height="6.6"/><rect x="669.2" y="847.1" width="6.6" height="6.6"/><rect x="670.5" y="848.9" width="6.6" height="6.6"/><rect x="671.7" y="851.3" width="6.6" height="6.6"/><rect x="672.5" y="850.8" width="6.6" height="6.6"/><rect x="674.2" y="851.7" width="6.6" height="6.6"/><rect x="675.1" y="851.3" width="6.6" height="6.6"/><rect x="677.1" y="850.8" width="6.6" height="6.6"/><rect x="677.9" y="847.2" width="6.6" height="6.6"/><rect x="679.2" y="848.8" width="6.6" height="6.6"/><rect x="680.7" y="850.8" width="6.6" height="6.6"/><rect x="681.9" y="847.7" width="6.6" height="6.6"/><rect x="683.2" y="850.5" width="6.6" height="6.6"/><rect x="684.1" y="852.2" width="6.6" height="6.6"/><rect x="685.9" y="847.3" width="6.6" height="6.6"/><rect x="687.4" y="847.4" width="6.6" height="6.6"/><rect x="688.1" y="851.1" width="6.6" height="6.6"/><rect x="689.7" y="850.1" width="6.6" height="6.6"/><rect x="691.0" y="849.4" width="6.6" height="6.6"/><rect x="692.0" y="847.6" width="6.6" height="6.6"/><rect x="693.1" y="851.1" width="6.6" height="6.6"/><rect x="695.1" y="850.0" width="6.6" height="6.6"/><rect x="696.3" y="848.8" width="6.6" height="6.6"/><rect x="697.2" y="849.0" width="6.6" height="6.6"/><rect x="699.1" y="846.8" width="6.6" height="6.6"/><rect x="700.0" y="848.1" width="6.6" height="6.6"/><rect x="701.6" y="848.8" width="6.6" height="6.6"/><rect x="702.4" y="849.1" width="6.6" height="6.6"/><rect x="703.9" y="851.4" width="6.6" height="6.6"/><rect x="705.1" y="851.9" width="6.6" height="6.6"/><rect x="706.1" y="848.2" width="6.6" height="6.6"/><rect x="707.4" y="847.2" width="6.6" height="6.6"/><rect x="709.4" y="851.1" width="6.6" height="6.6"/><rect x="710.1" y="847.7" width="6.6" height="6.6"/><rect x="711.6" y="851.2" width="6.6" height="6.6"/><rect x="713.3" y="851.3" width="6.6" height="6.6"/><rect x="714.4" y="847.4" width="6.6" height="6.6"/><rect x="715.5" y="847.7" width="6.6" height="6.6"/><rect x="716.9" y="850.1" width="6.6" height="6.6"/><rect x="717.9" y="848.1" width="6.6" height="6.6"/><rect x="719.8" y="846.7" width="6.6" height="6.6"/><rect x="721.1" y="852.2" width="6.6" height="6.6"/><rect x="722.5" y="848.9" width="6.6" height="6.6"/><rect x="723.5" y="850.2" width="6.6" height="6.6"/><rect x="724.8" y="852.7" width="6.6" height="6.6"/><rect x="726.2" y="848.4" width="6.6" height="6.6"/><rect x="727.7" y="849.6" width="6.6" height="6.6"/><rect x="728.7" y="851.1" width="6.6" height="6.6"/><rect x="729.4" y="851.4" width="6.6" height="6.6"/><rect x="731.4" y="849.6" width="6.6" height="6.6"/><rect x="732.5" y="849.4" width="6.6" height="6.6"/><rect x="733.5" y="849.9" width="6.6" height="6.6"/><rect x="734.6" y="849.7" width="6.6" height="6.6"/><rect x="736.5" y="849.3" width="6.6" height="6.6"/><rect x="737.8" y="852.7" width="6.6" height="6.6"/><rect x="739.4" y="847.4" width="6.6" height="6.6"/><rect x="740.6" y="850.6" width="6.6" height="6.6"/><rect x="741.2" y="848.9" width="6.6" height="6.6"/><rect x="742.6" y="847.1" width="6.6" height="6.6"/><rect x="744.2" y="852.6" width="6.6" height="6.6"/><rect x="745.3" y="852.3" width="6.6" height="6.6"/><rect x="747.0" y="847.7" width="6.6" height="6.6"/><rect x="748.5" y="850.7" width="6.6" height="6.6"/><rect x="749.8" y="851.5" width="6.6" height="6.6"/><rect x="750.9" y="849.2" width="6.6" height="6.6"/><rect x="752.3" y="853.0" width="6.6" height="6.6"/><rect x="753.7" y="849.8" width="6.6" height="6.6"/><rect x="754.9" y="850.2" width="6.6" height="6.6"/><rect x="755.5" y="847.3" width="6.6" height="6.6"/><rect x="756.8" y="848.3" width="6.6" height="6.6"/><rect x="758.2" y="850.1" width="6.6" height="6.6"/><rect x="760.0" y="850.3" width="6.6" height="6.6"/><rect x="761.0" y="850.9" width="6.6" height="6.6"/><rect x="762.2" y="849.6" width="6.6" height="6.6"/><rect x="764.0" y="849.1" width="6.6" height="6.6"/><rect x="764.7" y="852.2" width="6.6" height="6.6"/><rect x="766.5" y="848.6" width="6.6" height="6.6"/><rect x="767.5" y="849.6" width="6.6" height="6.6"/><rect x="769.0" y="847.5" width="6.6" height="6.6"/><rect x="769.7" y="847.2" width="6.6" height="6.6"/><rect x="771.8" y="846.6" width="6.6" height="6.6"/><rect x="772.8" y="846.8" width="6.6" height="6.6"/><rect x="773.8" y="846.5" width="6.6" height="6.6"/><rect x="775.3" y="846.3" width="6.6" height="6.6"/><rect x="776.2" y="845.7" width="6.6" height="6.6"/><rect x="777.7" y="847.9" width="6.6" height="6.6"/><rect x="778.9" y="844.8" width="6.6" height="6.6"/><rect x="780.5" y="847.1" width="6.6" height="6.6"/><rect x="782.1" y="844.6" width="6.6" height="6.6"/><rect x="783.1" y="846.5" width="6.6" height="6.6"/><rect x="784.0" y="849.5" width="6.6" height="6.6"/><rect x="785.5" y="842.9" width="6.6" height="6.6"/><rect x="787.1" y="841.8" width="6.6" height="6.6"/><rect x="788.5" y="840.4" width="6.6" height="6.6"/><rect x="789.3" y="835.0" width="6.6" height="6.6"/><rect x="791.2" y="832.5" width="6.6" height="6.6"/><rect x="792.6" y="828.9" width="6.6" height="6.6"/><rect x="794.0" y="822.3" width="6.6" height="6.6"/><rect x="794.6" y="815.4" width="6.6" height="6.6"/><rect x="796.5" y="808.5" width="6.6" height="6.6"/><rect x="797.3" y="798.0" width="6.6" height="6.6"/><rect x="799.0" y="796.3" width="6.6" height="6.6"/><rect x="800.2" y="781.9" width="6.6" height="6.6"/><rect x="800.9" y="765.0" width="6.6" height="6.6"/><rect x="802.4" y="749.0" width="6.6" height="6.6"/><rect x="803.6" y="740.9" width="6.6" height="6.6"/><rect x="805.7" y="726.0" width="6.6" height="6.6"/><rect x="807.1" y="709.0" width="6.6" height="6.6"/><rect x="808.2" y="699.8" width="6.6" height="6.6"/><rect x="809.6" y="687.6" width="6.6" height="6.6"/><rect x="810.3" y="679.1" width="6.6" height="6.6"/><rect x="812.2" y="649.6" width="6.6" height="6.6"/><rect x="812.9" y="634.1" width="6.6" height="6.6"/><rect x="814.0" y="620.4" width="6.6" height="6.6"/><rect x="815.5" y="610.2" width="6.6" height="6.6"/><rect x="817.4" y="594.9" width="6.6" height="6.6"/><rect x="818.5" y="585.3" width="6.6" height="6.6"/><rect x="819.9" y="567.1" width="6.6" height="6.6"/><rect x="821.3" y="557.5" width="6.6" height="6.6"/><rect x="822.1" y="552.3" width="6.6" height="6.6"/><rect x="823.8" y="550.6" width="6.6" height="6.6"/><rect x="824.6" y="546.2" width="6.6" height="6.6"/><rect x="826.3" y="547.6" width="6.6" height="6.6"/><rect x="827.6" y="545.0" width="6.6" height="6.6"/><rect x="828.7" y="542.6" width="6.6" height="6.6"/><rect x="830.2" y="541.1" width="6.6" height="6.6"/><rect x="831.3" y="545.4" width="6.6" height="6.6"/><rect x="832.8" y="541.0" width="6.6" height="6.6"/><rect x="833.6" y="545.7" width="6.6" height="6.6"/><rect x="835.3" y="546.0" width="6.6" height="6.6"/><rect x="836.9" y="543.5" width="6.6" height="6.6"/><rect x="838.2" y="545.6" width="6.6" height="6.6"/><rect x="838.9" y="543.5" width="6.6" height="6.6"/><rect x="840.0" y="544.0" width="6.6" height="6.6"/><rect x="842.2" y="542.3" width="6.6" height="6.6"/><rect x="843.1" y="542.5" width="6.6" height="6.6"/><rect x="843.9" y="546.1" width="6.6" height="6.6"/><rect x="845.3" y="542.4" width="6.6" height="6.6"/><rect x="846.6" y="546.2" width="6.6" height="6.6"/><rect x="848.3" y="542.2" width="6.6" height="6.6"/><rect x="849.2" y="548.4" width="6.6" height="6.6"/><rect x="850.5" y="545.8" width="6.6" height="6.6"/><rect x="852.0" y="547.2" width="6.6" height="6.6"/><rect x="853.5" y="547.3" width="6.6" height="6.6"/><rect x="854.7" y="543.4" width="6.6" height="6.6"/><rect x="855.7" y="542.7" width="6.6" height="6.6"/><rect x="857.6" y="542.9" width="6.6" height="6.6"/><rect x="858.1" y="548.4" width="6.6" height="6.6"/><rect x="859.6" y="547.9" width="6.6" height="6.6"/><rect x="860.8" y="545.1" width="6.6" height="6.6"/><rect x="862.2" y="547.5" width="6.6" height="6.6"/><rect x="863.9" y="546.2" width="6.6" height="6.6"/><rect x="865.4" y="547.7" width="6.6" height="6.6"/><rect x="866.2" y="546.0" width="6.6" height="6.6"/><rect x="867.6" y="542.8" width="6.6" height="6.6"/><rect x="869.3" y="545.9" width="6.6" height="6.6"/><rect x="870.6" y="543.4" width="6.6" height="6.6"/><rect x="871.6" y="545.1" width="6.6" height="6.6"/><rect x="873.1" y="542.6" width="6.6" height="6.6"/><rect x="874.0" y="545.2" width="6.6" height="6.6"/><rect x="875.1" y="545.6" width="6.6" height="6.6"/><rect x="877.0" y="544.8" width="6.6" height="6.6"/><rect x="878.2" y="546.0" width="6.6" height="6.6"/><rect x="879.1" y="544.3" width="6.6" height="6.6"/><rect x="881.2" y="544.2" width="6.6" height="6.6"/><rect x="881.9" y="542.6" width="6.6" height="6.6"/><rect x="883.0" y="543.2" width="6.6" height="6.6"/><rect x="885.0" y="546.7" width="6.6" height="6.6"/><rect x="886.3" y="548.4" width="6.6" height="6.6"/><rect x="887.3" y="548.1" width="6.6" height="6.6"/><rect x="888.5" y="544.8" width="6.6" height="6.6"/><rect x="890.2" y="547.9" width="6.6" height="6.6"/><rect x="891.5" y="545.2" width="6.6" height="6.6"/><rect x="892.7" y="544.7" width="6.6" height="6.6"/><rect x="894.2" y="548.0" width="6.6" height="6.6"/><rect x="894.8" y="548.1" width="6.6" height="6.6"/><rect x="896.0" y="542.7" width="6.6" height="6.6"/><rect x="897.8" y="544.0" width="6.6" height="6.6"/><rect x="898.9" y="546.2" width="6.6" height="6.6"/><rect x="899.7" y="546.9" width="6.6" height="6.6"/><rect x="901.3" y="544.9" width="6.6" height="6.6"/><rect x="902.6" y="546.8" width="6.6" height="6.6"/><rect x="904.3" y="543.9" width="6.6" height="6.6"/><rect x="905.0" y="544.0" width="6.6" height="6.6"/><rect x="906.6" y="542.6" width="6.6" height="6.6"/><rect x="907.7" y="547.0" width="6.6" height="6.6"/><rect x="909.5" y="548.3" width="6.6" height="6.6"/><rect x="911.1" y="547.7" width="6.6" height="6.6"/><rect x="911.8" y="543.1" width="6.6" height="6.6"/><rect x="913.0" y="545.1" width="6.6" height="6.6"/><rect x="914.5" y="545.6" width="6.6" height="6.6"/><rect x="915.7" y="547.6" width="6.6" height="6.6"/><rect x="916.9" y="545.1" width="6.6" height="6.6"/><rect x="918.8" y="547.3" width="6.6" height="6.6"/><rect x="919.5" y="543.7" width="6.6" height="6.6"/><rect x="921.3" y="542.2" width="6.6" height="6.6"/><rect x="921.9" y="545.5" width="6.6" height="6.6"/><rect x="923.6" y="543.2" width="6.6" height="6.6"/><rect x="924.5" y="543.4" width="6.6" height="6.6"/><rect x="926.5" y="545.1" width="6.6" height="6.6"/><rect x="928.0" y="547.1" width="6.6" height="6.6"/><rect x="929.3" y="542.3" width="6.6" height="6.6"/><rect x="929.8" y="542.2" width="6.6" height="6.6"/><rect x="931.3" y="544.3" width="6.6" height="6.6"/><rect x="932.3" y="545.6" width="6.6" height="6.6"/><rect x="933.6" y="544.1" width="6.6" height="6.6"/><rect x="935.0" y="547.2" width="6.6" height="6.6"/><rect x="936.5" y="543.8" width="6.6" height="6.6"/><rect x="937.4" y="544.8" width="6.6" height="6.6"/><rect x="939.3" y="546.4" width="6.6" height="6.6"/><rect x="940.9" y="547.3" width="6.6" height="6.6"/><rect x="941.5" y="543.0" width="6.6" height="6.6"/><rect x="943.4" y="547.2" width="6.6" height="6.6"/><rect x="944.4" y="547.4" width="6.6" height="6.6"/><rect x="945.8" y="543.9" width="6.6" height="6.6"/><rect x="946.7" y="542.2" width="6.6" height="6.6"/><rect x="948.4" y="547.8" width="6.6" height="6.6"/><rect x="950.0" y="545.1" width="6.6" height="6.6"/><rect x="951.1" y="548.0" width="6.6" height="6.6"/><rect x="952.5" y="546.0" width="6.6" height="6.6"/><rect x="953.4" y="545.4" width="6.6" height="6.6"/><rect x="954.5" y="543.3" width="6.6" height="6.6"/><rect x="956.3" y="548.4" width="6.6" height="6.6"/><rect x="957.4" y="544.7" width="6.6" height="6.6"/><rect x="958.6" y="545.0" width="6.6" height="6.6"/><rect x="960.3" y="545.0" width="6.6" height="6.6"/><rect x="961.8" y="543.1" width="6.6" height="6.6"/><rect x="962.4" y="545.4" width="6.6" height="6.6"/><rect x="963.8" y="547.5" width="6.6" height="6.6"/><rect x="965.5" y="548.1" width="6.6" height="6.6"/><rect x="966.6" y="542.3" width="6.6" height="6.6"/><rect x="967.9" y="545.6" width="6.6" height="6.6"/><rect x="969.1" y="543.9" width="6.6" height="6.6"/><rect x="970.6" y="547.9" width="6.6" height="6.6"/></g><g fill="#FF0000"><circle cx="606.9" cy="853.0" r="4.1"/><circle cx="608.7" cy="852.1" r="4.1"/><circle cx="611.5" cy="854.4" r="4.1"/><circle cx="611.5" cy="850.3" r="4.1"/><circle cx="613.4" cy="850.2" r="4.1"/><circle cx="612.4" cy="853.5" r="4.1"/><circle cx="613.0" cy="850.5" r="4.1"/><circle cx="616.2" cy="854.0" r="4.1"/><circle cx="614.8" cy="851.0" r="4.1"/><circle cx="615.6" cy="849.6" r="4.1"/><circle cx="616.4" cy="853.9" r="4.1"/><circle cx="616.7" cy="850.0" r="4.1"/><circle cx="618.0" cy="849.1" r="4.1"/><circle cx="620.1" cy="852.5" r="4.1"/><circle cx="622.1" cy="851.9" r="4.1"/><circle cx="622.9" cy="848.6" r="4.1"/><circle cx="621.9" cy="853.5" r="4.1"/><circle cx="622.0" cy="849.8" r="4.1"/><circle cx="624.4" cy="849.7" r="4.1"/><circle cx="625.6" cy="848.5" r="4.1"/><circle cx="625.3" cy="853.2" r="4.1"/><circle cx="625.9" cy="852.9" r="4.1"/><circle cx="626.9" cy="853.3" r="4.1"/><circle cx="629.6" cy="851.4" r="4.1"/><circle cx="628.6" cy="848.3" r="4.1"/><circle cx="631.7" cy="848.8" r="4.1"/><circle cx="630.6" cy="852.1" r="4.1"/><circle cx="633.9" cy="848.1" r="4.1"/><circle cx="635.2" cy="850.6" r="4.1"/><circle cx="634.0" cy="848.3" r="4.1"/><circle cx="634.9" cy="852.9" r="4.1"/><circle cx="635.4" cy="848.5" r="4.1"/><circle cx="635.8" cy="848.6" r="4.1"/><circle cx="637.5" cy="852.9" r="4.1"/><circle cx="637.4" cy="849.1" r="4.1"/><circle cx="641.4" cy="853.2" r="4.1"/><circle cx="642.4" cy="849.1" r="4.1"/><circle cx="641.1" cy="852.6" r="4.1"/><circle cx="642.4" cy="851.1" r="4.1"/><circle cx="642.7" cy="847.3" r="4.1"/><circle cx="643.7" cy="850.7" r="4.1"/><circle cx="646.2" cy="849.5" r="4.1"/><circle cx="646.0" cy="849.0" r="4.1"/><circle cx="646.8" cy="848.6" r="4.1"/><circle cx="649.1" cy="846.6" r="4.1"/><circle cx="649.1" cy="850.0" r="4.1"/><circle cx="651.0" cy="845.7" r="4.1"/><circle cx="652.3" cy="848.7" r="4.1"/><circle cx="650.3" cy="845.4" r="4.1"/><circle cx="651.3" cy="843.9" r="4.1"/><circle cx="655.0" cy="845.4" r="4.1"/><circle cx="655.5" cy="843.4" r="4.1"/><circle cx="653.4" cy="847.0" r="4.1"/><circle cx="657.1" cy="847.2" r="4.1"/><circle cx="657.6" cy="844.3" r="4.1"/><circle cx="658.8" cy="841.6" r="4.1"/><circle cx="658.8" cy="843.0" r="4.1"/><circle cx="658.3" cy="843.3" r="4.1"/><circle cx="659.9" cy="842.3" r="4.1"/><circle cx="660.9" cy="840.7" r="4.1"/><circle cx="661.8" cy="841.6" r="4.1"/><circle cx="664.9" cy="842.7" r="4.1"/><circle cx="665.4" cy="841.4" r="4.1"/><circle cx="664.2" cy="841.3" r="4.1"/><circle cx="665.1" cy="836.0" r="4.1"/><circle cx="666.8" cy="838.3" r="4.1"/><circle cx="667.1" cy="836.8" r="4.1"/><circle cx="667.8" cy="837.4" r="4.1"/><circle cx="669.3" cy="833.7" r="4.1"/><circle cx="670.5" cy="834.6" r="4.1"/><circle cx="673.1" cy="831.4" r="4.1"/><circle cx="672.0" cy="830.3" r="4.1"/><circle cx="671.5" cy="827.5" r="4.1"/><circle cx="675.3" cy="827.2" r="4.1"/><circle cx="673.3" cy="825.3" r="4.1"/><circle cx="675.4" cy="823.5" r="4.1"/><circle cx="676.2" cy="817.1" r="4.1"/><circle cx="677.8" cy="818.2" r="4.1"/><circle cx="678.3" cy="815.5" r="4.1"/><circle cx="680.2" cy="810.2" r="4.1"/><circle cx="679.6" cy="808.1" r="4.1"/><circle cx="680.8" cy="804.5" r="4.1"/><circle cx="682.6" cy="804.1" r="4.1"/><circle cx="683.3" cy="797.1" r="4.1"/><circle cx="682.9" cy="794.9" r="4.1"/><circle cx="685.2" cy="790.3" r="4.1"/><circle cx="684.2" cy="787.9" r="4.1"/><circle cx="685.8" cy="783.2" r="4.1"/><circle cx="687.6" cy="784.9" r="4.1"/><circle cx="688.5" cy="781.1" r="4.1"/><circle cx="690.5" cy="778.7" r="4.1"/><circle cx="691.7" cy="773.6" r="4.1"/><circle cx="691.8" cy="768.7" r="4.1"/><circle cx="693.4" cy="766.3" r="4.1"/><circle cx="692.8" cy="764.8" r="4.1"/><circle cx="693.0" cy="757.0" r="4.1"/><circle cx="695.9" cy="755.2" r="4.1"/><circle cx="694.1" cy="748.8" r="4.1"/><circle cx="696.0" cy="745.6" r="4.1"/><circle cx="698.6" cy="743.5" r="4.1"/><circle cx="697.5" cy="741.6" r="4.1"/><circle cx="699.2" cy="738.9" r="4.1"/><circle cx="700.6" cy="737.0" r="4.1"/><circle cx="700.8" cy="730.8" r="4.1"/><circle cx="703.6" cy="730.5" r="4.1"/><circle cx="701.3" cy="725.7" r="4.1"/><circle cx="704.6" cy="725.0" r="4.1"/><circle cx="703.0" cy="716.1" r="4.1"/><circle cx="705.4" cy="714.4" r="4.1"/><circle cx="707.8" cy="712.4" r="4.1"/><circle cx="706.7" cy="705.9" r="4.1"/><circle cx="708.5" cy="703.9" r="4.1"/><circle cx="708.0" cy="697.0" r="4.1"/><circle cx="708.5" cy="694.0" r="4.1"/><circle cx="709.2" cy="691.6" r="4.1"/><circle cx="711.9" cy="686.3" r="4.1"/><circle cx="711.2" cy="681.7" r="4.1"/><circle cx="713.5" cy="682.8" r="4.1"/><circle cx="714.6" cy="677.8" r="4.1"/><circle cx="717.1" cy="677.7" r="4.1"/><circle cx="716.4" cy="672.5" r="4.1"/><circle cx="716.5" cy="672.5" r="4.1"/><circle cx="716.8" cy="666.6" r="4.1"/><circle cx="719.4" cy="662.4" r="4.1"/><circle cx="720.9" cy="662.7" r="4.1"/><circle cx="722.1" cy="659.4" r="4.1"/><circle cx="720.6" cy="653.5" r="4.1"/><circle cx="722.4" cy="652.5" r="4.1"/><circle cx="722.4" cy="652.8" r="4.1"/><circle cx="723.4" cy="649.7" r="4.1"/><circle cx="726.9" cy="643.1" r="4.1"/><circle cx="727.7" cy="641.6" r="4.1"/><circle cx="726.1" cy="638.0" r="4.1"/><circle cx="726.3" cy="637.3" r="4.1"/><circle cx="728.5" cy="637.1" r="4.1"/><circle cx="731.0" cy="630.9" r="4.1"/><circle cx="730.3" cy="630.7" r="4.1"/><circle cx="730.4" cy="628.0" r="4.1"/><circle cx="731.6" cy="628.2" r="4.1"/><circle cx="732.8" cy="623.2" r="4.1"/><circle cx="733.3" cy="622.8" r="4.1"/><circle cx="735.4" cy="619.7" r="4.1"/><circle cx="736.8" cy="617.5" r="4.1"/><circle cx="737.6" cy="617.4" r="4.1"/><circle cx="736.7" cy="615.8" r="4.1"/><circle cx="738.4" cy="612.3" r="4.1"/><circle cx="740.1" cy="610.5" r="4.1"/><circle cx="740.4" cy="605.6" r="4.1"/><circle cx="742.5" cy="608.1" r="4.1"/><circle cx="742.4" cy="605.2" r="4.1"/><circle cx="742.5" cy="605.4" r="4.1"/><circle cx="744.9" cy="600.4" r="4.1"/><circle cx="746.2" cy="603.1" r="4.1"/><circle cx="745.4" cy="601.8" r="4.1"/><circle cx="746.8" cy="596.3" r="4.1"/><circle cx="748.6" cy="596.0" r="4.1"/><circle cx="749.5" cy="596.2" r="4.1"/><circle cx="748.2" cy="594.8" r="4.1"/><circle cx="751.8" cy="593.6" r="4.1"/><circle cx="751.5" cy="594.7" r="4.1"/><circle cx="752.1" cy="592.0" r="4.1"/><circle cx="753.5" cy="593.0" r="4.1"/><circle cx="753.0" cy="588.4" r="4.1"/><circle cx="755.9" cy="590.1" r="4.1"/><circle cx="755.2" cy="591.2" r="4.1"/><circle cx="758.2" cy="588.8" r="4.1"/><circle cx="759.5" cy="589.7" r="4.1"/><circle cx="759.5" cy="586.3" r="4.1"/><circle cx="757.7" cy="587.7" r="4.1"/><circle cx="761.2" cy="585.6" r="4.1"/><circle cx="761.2" cy="586.4" r="4.1"/><circle cx="761.3" cy="586.8" r="4.1"/><circle cx="763.3" cy="584.8" r="4.1"/><circle cx="762.6" cy="585.4" r="4.1"/><circle cx="764.3" cy="586.0" r="4.1"/><circle cx="764.6" cy="584.0" r="4.1"/><circle cx="765.6" cy="583.7" r="4.1"/><circle cx="767.9" cy="581.8" r="4.1"/><circle cx="766.9" cy="583.5" r="4.1"/><circle cx="768.3" cy="583.3" r="4.1"/><circle cx="769.1" cy="580.9" r="4.1"/><circle cx="771.3" cy="584.8" r="4.1"/><circle cx="773.4" cy="582.4" r="4.1"/><circle cx="772.6" cy="579.8" r="4.1"/><circle cx="773.1" cy="580.7" r="4.1"/><circle cx="776.4" cy="579.4" r="4.1"/><circle cx="777.3" cy="581.0" r="4.1"/><circle cx="776.4" cy="579.6" r="4.1"/><circle cx="779.2" cy="578.9" r="4.1"/><circle cx="778.7" cy="580.3" r="4.1"/><circle cx="778.2" cy="578.5" r="4.1"/><circle cx="781.9" cy="581.1" r="4.1"/><circle cx="781.9" cy="581.4" r="4.1"/><circle cx="780.6" cy="580.1" r="4.1"/><circle cx="783.8" cy="577.3" r="4.1"/><circle cx="783.6" cy="581.0" r="4.1"/><circle cx="784.1" cy="579.6" r="4.1"/><circle cx="784.4" cy="578.8" r="4.1"/><circle cx="785.7" cy="577.7" r="4.1"/><circle cx="786.9" cy="579.3" r="4.1"/><circle cx="789.2" cy="577.1" r="4.1"/><circle cx="789.9" cy="576.4" r="4.1"/><circle cx="791.2" cy="575.2" r="4.1"/><circle cx="791.2" cy="576.7" r="4.1"/><circle cx="791.5" cy="573.6" r="4.1"/><circle cx="791.6" cy="576.5" r="4.1"/><circle cx="792.7" cy="577.0" r="4.1"/><circle cx="794.6" cy="577.8" r="4.1"/><circle cx="796.8" cy="576.5" r="4.1"/><circle cx="795.9" cy="572.9" r="4.1"/><circle cx="797.5" cy="576.4" r="4.1"/><circle cx="799.7" cy="573.5" r="4.1"/><circle cx="797.9" cy="577.4" r="4.1"/><circle cx="800.9" cy="574.8" r="4.1"/><circle cx="801.8" cy="572.9" r="4.1"/><circle cx="802.0" cy="575.5" r="4.1"/><circle cx="803.1" cy="572.8" r="4.1"/><circle cx="802.3" cy="575.1" r="4.1"/><circle cx="805.9" cy="572.4" r="4.1"/><circle cx="803.6" cy="572.0" r="4.1"/><circle cx="807.3" cy="573.5" r="4.1"/><circle cx="807.0" cy="576.6" r="4.1"/><circle cx="808.5" cy="572.7" r="4.1"/><circle cx="809.7" cy="571.2" r="4.1"/><circle cx="809.1" cy="574.7" r="4.1"/><circle cx="809.6" cy="571.2" r="4.1"/><circle cx="811.8" cy="572.7" r="4.1"/><circle cx="814.3" cy="571.4" r="4.1"/><circle cx="814.6" cy="572.9" r="4.1"/><circle cx="815.5" cy="573.1" r="4.1"/><circle cx="815.9" cy="572.4" r="4.1"/><circle cx="815.2" cy="573.0" r="4.1"/><circle cx="818.2" cy="572.4" r="4.1"/><circle cx="817.0" cy="572.8" r="4.1"/><circle cx="817.4" cy="572.2" r="4.1"/><circle cx="820.1" cy="573.4" r="4.1"/><circle cx="821.1" cy="572.0" r="4.1"/><circle cx="819.9" cy="570.6" r="4.1"/><circle cx="821.9" cy="571.5" r="4.1"/><circle cx="823.6" cy="571.8" r="4.1"/><circle cx="825.2" cy="573.6" r="4.1"/><circle cx="825.8" cy="574.2" r="4.1"/><circle cx="826.2" cy="572.6" r="4.1"/><circle cx="826.3" cy="570.7" r="4.1"/><circle cx="829.0" cy="573.0" r="4.1"/><circle cx="827.4" cy="575.2" r="4.1"/><circle cx="830.0" cy="573.6" r="4.1"/><circle cx="830.4" cy="571.0" r="4.1"/><circle cx="833.3" cy="571.2" r="4.1"/><circle cx="831.9" cy="575.5" r="4.1"/><circle cx="831.9" cy="572.9" r="4.1"/><circle cx="834.1" cy="571.6" r="4.1"/><circle cx="836.6" cy="572.5" r="4.1"/><circle cx="834.2" cy="572.8" r="4.1"/><circle cx="835.1" cy="574.0" r="4.1"/><circle cx="839.1" cy="575.0" r="4.1"/><circle cx="837.1" cy="573.8" r="4.1"/><circle cx="838.9" cy="572.8" r="4.1"/><circle cx="839.8" cy="571.9" r="4.1"/><circle cx="840.1" cy="573.6" r="4.1"/><circle cx="840.8" cy="575.3" r="4.1"/><circle cx="841.6" cy="575.3" r="4.1"/><circle cx="843.0" cy="570.8" r="4.1"/><circle cx="845.9" cy="573.1" r="4.1"/><circle cx="846.9" cy="573.0" r="4.1"/><circle cx="847.3" cy="570.8" r="4.1"/><circle cx="848.3" cy="573.0" r="4.1"/><circle cx="850.3" cy="570.4" r="4.1"/><circle cx="847.9" cy="573.9" r="4.1"/><circle cx="851.9" cy="572.6" r="4.1"/><circle cx="852.1" cy="573.3" r="4.1"/><circle cx="851.8" cy="572.8" r="4.1"/><circle cx="853.5" cy="570.5" r="4.1"/><circle cx="853.3" cy="574.2" r="4.1"/><circle cx="854.0" cy="572.9" r="4.1"/><circle cx="854.9" cy="572.3" r="4.1"/><circle cx="857.2" cy="574.3" r="4.1"/><circle cx="859.2" cy="572.9" r="4.1"/><circle cx="857.4" cy="572.2" r="4.1"/><circle cx="857.8" cy="571.7" r="4.1"/><circle cx="860.6" cy="573.6" r="4.1"/><circle cx="860.3" cy="571.4" r="4.1"/><circle cx="860.7" cy="571.4" r="4.1"/><circle cx="863.0" cy="571.8" r="4.1"/><circle cx="865.3" cy="573.4" r="4.1"/><circle cx="864.2" cy="572.8" r="4.1"/><circle cx="864.0" cy="574.3" r="4.1"/><circle cx="867.5" cy="572.4" r="4.1"/><circle cx="868.3" cy="572.0" r="4.1"/><circle cx="867.4" cy="571.7" r="4.1"/><circle cx="868.2" cy="573.7" r="4.1"/><circle cx="870.7" cy="574.4" r="4.1"/><circle cx="869.7" cy="574.6" r="4.1"/><circle cx="871.9" cy="572.6" r="4.1"/><circle cx="872.9" cy="572.9" r="4.1"/><circle cx="872.7" cy="572.7" r="4.1"/><circle cx="875.2" cy="574.4" r="4.1"/><circle cx="877.1" cy="571.7" r="4.1"/><circle cx="877.9" cy="574.8" r="4.1"/><circle cx="878.2" cy="575.8" r="4.1"/><circle cx="877.0" cy="574.7" r="4.1"/><circle cx="880.6" cy="571.3" r="4.1"/><circle cx="880.4" cy="575.6" r="4.1"/><circle cx="880.3" cy="575.2" r="4.1"/><circle cx="883.4" cy="573.0" r="4.1"/><circle cx="881.5" cy="571.9" r="4.1"/><circle cx="884.9" cy="573.0" r="4.1"/><circle cx="883.9" cy="573.1" r="4.1"/><circle cx="887.0" cy="572.1" r="4.1"/><circle cx="884.7" cy="575.7" r="4.1"/><circle cx="886.6" cy="572.8" r="4.1"/><circle cx="889.9" cy="572.3" r="4.1"/><circle cx="887.6" cy="575.5" r="4.1"/><circle cx="889.1" cy="572.0" r="4.1"/><circle cx="892.5" cy="572.1" r="4.1"/><circle cx="893.2" cy="572.6" r="4.1"/><circle cx="892.0" cy="572.0" r="4.1"/><circle cx="893.8" cy="573.8" r="4.1"/><circle cx="894.1" cy="573.6" r="4.1"/><circle cx="894.7" cy="575.3" r="4.1"/><circle cx="897.9" cy="574.9" r="4.1"/><circle cx="898.4" cy="571.3" r="4.1"/><circle cx="897.2" cy="572.1" r="4.1"/><circle cx="897.8" cy="576.0" r="4.1"/><circle cx="901.4" cy="575.8" r="4.1"/><circle cx="901.0" cy="571.6" r="4.1"/><circle cx="901.4" cy="571.3" r="4.1"/><circle cx="904.1" cy="572.4" r="4.1"/><circle cx="902.7" cy="576.0" r="4.1"/><circle cx="903.3" cy="575.9" r="4.1"/><circle cx="904.6" cy="574.6" r="4.1"/><circle cx="904.8" cy="575.8" r="4.1"/><circle cx="906.7" cy="572.9" r="4.1"/><circle cx="908.6" cy="574.2" r="4.1"/><circle cx="908.0" cy="571.8" r="4.1"/><circle cx="910.1" cy="571.3" r="4.1"/><circle cx="912.0" cy="573.0" r="4.1"/><circle cx="910.4" cy="572.9" r="4.1"/><circle cx="911.1" cy="572.9" r="4.1"/><circle cx="913.6" cy="573.4" r="4.1"/><circle cx="913.7" cy="572.8" r="4.1"/><circle cx="915.2" cy="575.3" r="4.1"/><circle cx="915.9" cy="575.3" r="4.1"/><circle cx="916.9" cy="571.9" r="4.1"/><circle cx="916.7" cy="575.7" r="4.1"/><circle cx="918.7" cy="573.3" r="4.1"/><circle cx="919.8" cy="575.8" r="4.1"/><circle cx="920.2" cy="573.2" r="4.1"/><circle cx="921.0" cy="571.4" r="4.1"/><circle cx="922.6" cy="573.9" r="4.1"/><circle cx="923.3" cy="573.8" r="4.1"/><circle cx="924.1" cy="575.2" r="4.1"/><circle cx="924.0" cy="576.5" r="4.1"/><circle cx="924.6" cy="576.0" r="4.1"/><circle cx="925.7" cy="575.6" r="4.1"/><circle cx="926.9" cy="571.9" r="4.1"/><circle cx="928.8" cy="575.9" r="4.1"/><circle cx="930.8" cy="576.1" r="4.1"/><circle cx="932.2" cy="571.8" r="4.1"/><circle cx="931.0" cy="572.1" r="4.1"/><circle cx="933.2" cy="573.9" r="4.1"/><circle cx="934.1" cy="575.7" r="4.1"/><circle cx="935.9" cy="575.1" r="4.1"/><circle cx="936.4" cy="574.5" r="4.1"/><circle cx="934.4" cy="576.3" r="4.1"/><circle cx="935.3" cy="572.1" r="4.1"/><circle cx="938.9" cy="573.1" r="4.1"/><circle cx="939.2" cy="571.8" r="4.1"/><circle cx="938.5" cy="575.4" r="4.1"/><circle cx="938.7" cy="574.4" r="4.1"/><circle cx="942.9" cy="572.8" r="4.1"/><circle cx="942.9" cy="575.6" r="4.1"/><circle cx="943.5" cy="575.7" r="4.1"/><circle cx="944.7" cy="571.9" r="4.1"/><circle cx="943.8" cy="574.6" r="4.1"/><circle cx="947.5" cy="572.9" r="4.1"/><circle cx="947.0" cy="572.5" r="4.1"/><circle cx="948.8" cy="574.2" r="4.1"/><circle cx="948.6" cy="575.3" r="4.1"/><circle cx="948.1" cy="575.7" r="4.1"/><circle cx="951.4" cy="576.4" r="4.1"/><circle cx="950.4" cy="573.1" r="4.1"/><circle cx="950.9" cy="576.6" r="4.1"/><circle cx="952.8" cy="574.0" r="4.1"/><circle cx="954.0" cy="575.6" r="4.1"/><circle cx="954.1" cy="573.7" r="4.1"/><circle cx="956.7" cy="576.0" r="4.1"/><circle cx="955.9" cy="572.4" r="4.1"/><circle cx="959.0" cy="575.8" r="4.1"/><circle cx="958.7" cy="574.1" r="4.1"/><circle cx="961.0" cy="574.3" r="4.1"/><circle cx="959.2" cy="572.6" r="4.1"/><circle cx="960.6" cy="575.2" r="4.1"/><circle cx="961.5" cy="577.0" r="4.1"/><circle cx="963.4" cy="574.5" r="4.1"/><circle cx="964.4" cy="575.3" r="4.1"/><circle cx="965.1" cy="574.7" r="4.1"/><circle cx="965.7" cy="574.7" r="4.1"/><circle cx="967.7" cy="573.2" r="4.1"/><circle cx="968.4" cy="573.7" r="4.1"/><circle cx="969.6" cy="572.6" r="4.1"/><circle cx="969.1" cy="574.5" r="4.1"/><circle cx="970.9" cy="573.3" r="4.1"/><circle cx="970.1" cy="572.9" r="4.1"/><circle cx="972.1" cy="575.3" r="4.1"/><circle cx="971.0" cy="573.2" r="4.1"/><circle cx="972.6" cy="577.3" r="4.1"/><circle cx="974.4" cy="575.2" r="4.1"/></g></g><rect x="603.7" y="491.6" width="370.79999999999995" height="369.79999999999995" fill="none" stroke="#222" stroke-width="1.4"/><path d="M603.70,861.4v-6M603.70,491.6v6M665.50,861.4v-3M665.50,491.6v3M727.30,861.4v-6M727.30,491.6v6M789.10,861.4v-3M789.10,491.6v3M850.90,861.4v-6M850.90,491.6v6M912.70,861.4v-3M912.70,491.6v3M974.50,861.4v-6M974.50,491.6v6M603.7,852.90h6M974.5,852.90h-6M603.7,809.30h3M974.5,809.30h-3M603.7,765.70h6M974.5,765.70h-6M603.7,722.10h3M974.5,722.10h-3M603.7,678.50h6M974.5,678.50h-6M603.7,634.90h3M974.5,634.90h-3M603.7,591.30h6M974.5,591.30h-6M603.7,547.70h3M974.5,547.70h-3M603.7,504.10h6M974.5,504.10h-6" stroke="#222" stroke-width="1.4" fill="none"/><text x="597" y="863.5" font-size="36" text-anchor="end" fill="#000" stroke="#000" stroke-width="0.4" >0</text><text x="597" y="776.3" font-size="36" text-anchor="end" fill="#000" stroke="#000" stroke-width="0.4" >4</text><text x="597" y="689.1" font-size="36" text-anchor="end" fill="#000" stroke="#000" stroke-width="0.4" >8</text><text x="597" y="601.9" font-size="36" text-anchor="end" fill="#000" stroke="#000" stroke-width="0.4" >12</text><text x="597" y="514.6999999999999" font-size="36" text-anchor="end" fill="#000" stroke="#000" stroke-width="0.4" >16</text><text x="603.7" y="895.5" font-size="36" text-anchor="middle" fill="#000" stroke="#000" stroke-width="0.4" >0</text><text x="727.3000000000001" y="895.5" font-size="36" text-anchor="middle" fill="#000" stroke="#000" stroke-width="0.4" >1</text><text x="850.9" y="895.5" font-size="36" text-anchor="middle" fill="#000" stroke="#000" stroke-width="0.4" >2</text><text x="974.5" y="895.5" font-size="36" text-anchor="middle" fill="#000" stroke="#000" stroke-width="0.4" >3</text><text x="789" y="931.5" font-size="36" text-anchor="middle" fill="#000" stroke="#000" stroke-width="0.4" ><tspan font-style="italic">T</tspan> (K)</text><text transform="translate(549,677) rotate(-90)" font-size="36" text-anchor="middle" stroke="#000" stroke-width="0.4"><tspan font-style="italic">R</tspan> (&#937;)</text><text x="888" y="531.5" font-size="26" text-anchor="start" fill="#000" stroke="#000" stroke-width="0.4" >1.4 V</text><text x="887" y="607.2" font-size="26" text-anchor="start" fill="#FF0000" stroke="#FF0000" stroke-width="0.4" >0 V (II)</text><text x="617" y="521.1" font-size="25.5" text-anchor="start" fill="#000" stroke="#000" stroke-width="0.4" >TaSe<tspan font-size="16" dy="8.5" dx="0.5">2</tspan><tspan dy="-8.5" dx="1.5"> 10 nm</tspan></text><text x="617" y="555.6" font-size="25.5" text-anchor="start" fill="#000" stroke="#000" stroke-width="0.4" >device C</text></svg></body></html>
